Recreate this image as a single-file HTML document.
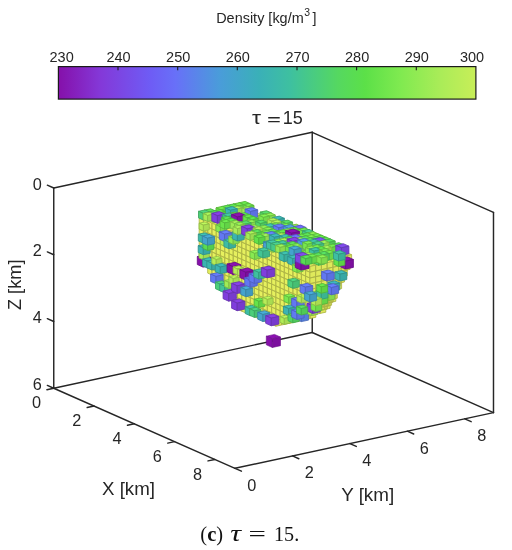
<!DOCTYPE html>
<html><head><meta charset="utf-8"><title>Density voxel plot</title>
<style>html,body{margin:0;padding:0;background:#fff}svg{display:block}</style>
</head><body>
<svg width="512" height="550" viewBox="0 0 512 550">
<rect width="512" height="550" fill="#fff"/>
<defs><linearGradient id="cm" x1="0" x2="1" y1="0" y2="0"><stop offset="0.000" stop-color="#8510aa"/><stop offset="0.100" stop-color="#8438d8"/><stop offset="0.220" stop-color="#6e5cf5"/><stop offset="0.280" stop-color="#6870f8"/><stop offset="0.385" stop-color="#4a9cda"/><stop offset="0.480" stop-color="#3ab0b8"/><stop offset="0.555" stop-color="#3ec0a0"/><stop offset="0.670" stop-color="#55d860"/><stop offset="0.735" stop-color="#5ce048"/><stop offset="0.820" stop-color="#80ea50"/><stop offset="0.915" stop-color="#aaec58"/><stop offset="1.000" stop-color="#c8ee58"/></linearGradient></defs>
<rect x="58.4" y="66.6" width="417.5" height="32.5" fill="url(#cm)" stroke="#1a1a1a" stroke-width="1.2"/>
<g stroke="#1a1a1a" stroke-width="1.1">
<line x1="118.0" y1="66.6" x2="118.0" y2="70.2"/>
<line x1="177.7" y1="66.6" x2="177.7" y2="70.2"/>
<line x1="237.3" y1="66.6" x2="237.3" y2="70.2"/>
<line x1="297.0" y1="66.6" x2="297.0" y2="70.2"/>
<line x1="356.6" y1="66.6" x2="356.6" y2="70.2"/>
<line x1="416.3" y1="66.6" x2="416.3" y2="70.2"/>
</g>
<g stroke="#262626" stroke-width="1.45" stroke-linecap="round" fill="none">
<line x1="53.75" y1="188.00" x2="312.23" y2="132.29"/>
<line x1="312.23" y1="132.29" x2="493.49" y2="212.39"/>
<line x1="312.23" y1="132.29" x2="312.23" y2="332.51"/>
<line x1="53.75" y1="388.22" x2="312.23" y2="332.51"/>
<line x1="312.23" y1="332.51" x2="493.49" y2="412.61"/>
</g>
<g stroke-width="0.6" stroke-linejoin="round"><g stroke="#6a0d88"><path fill="#8c11b2" d="M266.3,336.2L272.4,338.8L280.5,337.1L274.5,334.4Z"/><path fill="#8510aa" d="M266.3,336.2L272.4,338.8L272.4,347.5L266.3,344.8Z"/><path fill="#7c0f9e" d="M272.4,338.8L280.5,337.1L280.5,345.7L272.4,347.5Z"/></g></g>
<g stroke-width="0.85" stroke-linejoin="round">
<path fill="#edf761" stroke="#b8c04b" d="M199.2,211.7L203.4,213.6L209.2,212.4L204.9,210.5ZM204.9,210.5L209.2,212.4L214.9,211.2L210.6,209.3ZM210.6,215.0L214.9,216.9L220.6,215.7L216.4,213.8ZM216.4,208.0L220.6,209.9L226.4,208.7L222.1,206.8ZM222.1,206.8L226.4,208.7L232.1,207.4L227.9,205.6ZM227.9,205.6L232.1,207.4L237.9,206.2L233.6,204.3ZM233.6,204.3L237.9,206.2L243.6,205.0L239.4,203.1ZM239.4,203.1L243.6,205.0L249.4,203.7L245.1,201.8ZM203.4,213.6L207.7,215.5L213.4,214.3L209.2,212.4ZM209.2,212.4L213.4,214.3L219.2,213.0L214.9,211.2ZM214.9,211.2L219.2,213.0L224.9,211.8L220.6,209.9ZM220.6,215.7L224.9,217.6L230.6,216.3L226.4,214.4ZM226.4,208.7L230.6,210.6L236.4,209.3L232.1,207.4ZM232.1,207.4L236.4,209.3L242.1,208.1L237.9,206.2ZM237.9,212.0L242.1,213.8L247.9,212.6L243.6,210.7ZM243.6,205.0L247.9,206.8L253.6,205.6L249.4,203.7ZM207.7,221.3L211.9,223.1L217.7,221.9L213.4,220.0ZM213.4,214.3L217.7,216.2L223.4,214.9L219.2,213.0ZM219.2,218.8L223.4,220.7L229.2,219.4L224.9,217.6ZM224.9,217.6L229.2,219.4L234.9,218.2L230.6,216.3ZM230.6,216.3L234.9,218.2L240.7,217.0L236.4,215.1ZM236.4,215.1L240.7,217.0L246.4,215.7L242.1,213.8ZM242.1,208.1L246.4,210.0L252.1,208.7L247.9,206.8ZM247.9,212.6L252.1,214.5L257.9,213.2L253.6,211.4ZM211.9,223.1L216.2,225.0L221.9,223.8L217.7,221.9ZM217.7,221.9L221.9,223.8L227.7,222.6L223.4,220.7ZM223.4,214.9L227.7,216.8L233.4,215.6L229.2,213.7ZM229.2,213.7L233.4,215.6L239.2,214.3L234.9,212.4ZM234.9,218.2L239.2,220.1L244.9,218.8L240.7,217.0ZM240.7,217.0L244.9,218.8L250.7,217.6L246.4,215.7ZM246.4,210.0L250.7,211.8L256.4,210.6L252.1,208.7ZM252.1,214.5L256.4,216.4L262.1,215.1L257.9,213.2ZM216.2,225.0L220.4,226.9L226.2,225.7L221.9,223.8ZM221.9,218.0L226.2,219.9L231.9,218.7L227.7,216.8ZM227.7,222.6L231.9,224.4L237.7,223.2L233.4,221.3ZM233.4,215.6L237.7,217.4L243.4,216.2L239.2,214.3ZM239.2,214.3L243.4,216.2L249.2,215.0L244.9,213.1ZM244.9,218.8L249.2,220.7L254.9,219.5L250.7,217.6ZM250.7,217.6L254.9,219.5L260.7,218.2L256.4,216.4ZM256.4,216.4L260.7,218.2L266.4,217.0L262.1,215.1ZM220.4,221.2L224.7,223.0L230.5,221.8L226.2,219.9ZM226.2,219.9L230.5,221.8L236.2,220.6L231.9,218.7ZM231.9,224.4L236.2,226.3L241.9,225.1L237.7,223.2ZM237.7,223.2L241.9,225.1L247.7,223.8L243.4,222.0ZM243.4,216.2L247.7,218.1L253.4,216.8L249.2,215.0ZM249.2,220.7L253.4,222.6L259.2,221.4L254.9,219.5ZM254.9,219.5L259.2,221.4L264.9,220.1L260.7,218.2ZM260.7,212.5L264.9,214.4L270.7,213.1L266.4,211.3ZM224.7,228.8L229.0,230.7L234.7,229.4L230.5,227.6ZM230.5,221.8L234.7,223.7L240.5,222.4L236.2,220.6ZM236.2,226.3L240.5,228.2L246.2,227.0L241.9,225.1ZM241.9,225.1L246.2,227.0L251.9,225.7L247.7,223.8ZM247.7,218.1L251.9,220.0L257.7,218.7L253.4,216.8ZM253.4,222.6L257.7,224.5L263.4,223.3L259.2,221.4ZM259.2,215.6L263.4,217.5L269.2,216.3L264.9,214.4ZM264.9,214.4L269.2,216.3L274.9,215.0L270.7,213.1ZM229.0,230.7L233.2,232.6L239.0,231.3L234.7,229.4ZM234.7,223.7L239.0,225.6L244.7,224.3L240.5,222.4ZM240.5,222.4L244.7,224.3L250.5,223.1L246.2,221.2ZM246.2,221.2L250.5,223.1L256.2,221.9L251.9,220.0ZM251.9,225.7L256.2,227.6L261.9,226.4L257.7,224.5ZM257.7,224.5L261.9,226.4L267.7,225.1L263.4,223.3ZM263.4,223.3L267.7,225.1L273.4,223.9L269.2,222.0ZM269.2,222.0L273.4,223.9L279.2,222.7L274.9,220.8ZM233.2,226.8L237.5,228.7L243.2,227.4L239.0,225.6ZM239.0,231.3L243.2,233.2L249.0,232.0L244.7,230.1ZM244.7,230.1L249.0,232.0L254.7,230.7L250.5,228.8ZM250.5,228.8L254.7,230.7L260.5,229.5L256.2,227.6ZM256.2,221.9L260.5,223.7L266.2,222.5L261.9,220.6ZM261.9,226.4L266.2,228.3L272.0,227.0L267.7,225.1ZM267.7,219.4L272.0,221.3L277.7,220.0L273.4,218.1ZM273.4,218.1L277.7,220.0L283.4,218.8L279.2,216.9ZM237.5,234.4L241.7,236.3L247.5,235.1L243.2,233.2ZM243.2,227.4L247.5,229.3L253.2,228.1L249.0,226.2ZM249.0,226.2L253.2,228.1L259.0,226.9L254.7,225.0ZM254.7,230.7L259.0,232.6L264.7,231.4L260.5,229.5ZM260.5,229.5L264.7,231.4L270.5,230.1L266.2,228.3ZM266.2,228.3L270.5,230.1L276.2,228.9L272.0,227.0ZM272.0,221.3L276.2,223.1L282.0,221.9L277.7,220.0ZM277.7,225.8L282.0,227.7L287.7,226.4L283.4,224.5ZM241.7,236.3L246.0,238.2L251.8,237.0L247.5,235.1ZM247.5,235.1L251.8,237.0L257.5,235.7L253.2,233.8ZM253.2,228.1L257.5,230.0L263.2,228.7L259.0,226.9ZM259.0,226.9L263.2,228.7L269.0,227.5L264.7,225.6ZM264.7,225.6L269.0,227.5L274.7,226.3L270.5,224.4ZM270.5,224.4L274.7,226.3L280.5,225.0L276.2,223.1ZM276.2,228.9L280.5,230.8L286.2,229.5L282.0,227.7ZM282.0,221.9L286.2,223.8L292.0,222.5L287.7,220.7ZM246.0,232.5L250.3,234.3L256.0,233.1L251.8,231.2ZM251.8,231.2L256.0,233.1L261.8,231.9L257.5,230.0ZM257.5,235.7L261.8,237.6L267.5,236.4L263.2,234.5ZM263.2,228.7L267.5,230.6L273.2,229.4L269.0,227.5ZM269.0,233.3L273.2,235.1L279.0,233.9L274.7,232.0ZM274.7,226.3L279.0,228.1L284.7,226.9L280.5,225.0ZM280.5,225.0L284.7,226.9L290.5,225.7L286.2,223.8ZM286.2,229.5L290.5,231.4L296.2,230.2L292.0,228.3ZM250.3,240.1L254.5,242.0L260.3,240.7L256.0,238.9ZM256.0,238.9L260.3,240.7L266.0,239.5L261.8,237.6ZM261.8,231.9L266.0,233.7L271.8,232.5L267.5,230.6ZM267.5,230.6L271.8,232.5L277.5,231.3L273.2,229.4ZM273.2,235.1L277.5,237.0L283.2,235.8L279.0,233.9ZM279.0,233.9L283.2,235.8L289.0,234.5L284.7,232.7ZM284.7,226.9L289.0,228.8L294.7,227.6L290.5,225.7ZM290.5,225.7L294.7,227.6L300.5,226.3L296.2,224.4ZM254.5,236.2L258.8,238.1L264.5,236.9L260.3,235.0ZM260.3,235.0L264.5,236.9L270.3,235.6L266.0,233.7ZM266.0,233.7L270.3,235.6L276.0,234.4L271.8,232.5ZM271.8,238.3L276.0,240.1L281.8,238.9L277.5,237.0ZM277.5,231.3L281.8,233.1L287.5,231.9L283.2,230.0ZM283.2,230.0L287.5,231.9L293.3,230.7L289.0,228.8ZM289.0,228.8L293.3,230.7L299.0,229.4L294.7,227.6ZM294.7,227.6L299.0,229.4L304.7,228.2L300.5,226.3ZM258.8,243.9L263.0,245.7L268.8,244.5L264.5,242.6ZM264.5,242.6L268.8,244.5L274.5,243.3L270.3,241.4ZM270.3,235.6L274.5,237.5L280.3,236.3L276.0,234.4ZM276.0,234.4L280.3,236.3L286.0,235.0L281.8,233.1ZM281.8,238.9L286.0,240.8L291.8,239.5L287.5,237.7ZM287.5,231.9L291.8,233.8L297.5,232.6L293.3,230.7ZM293.3,236.4L297.5,238.3L303.3,237.1L299.0,235.2ZM299.0,229.4L303.3,231.3L309.0,230.1L304.7,228.2ZM263.0,245.7L267.3,247.6L273.0,246.4L268.8,244.5ZM268.8,244.5L273.0,246.4L278.8,245.1L274.5,243.3ZM274.5,243.3L278.8,245.1L284.5,243.9L280.3,242.0ZM280.3,236.3L284.5,238.1L290.3,236.9L286.0,235.0ZM286.0,240.8L290.3,242.7L296.0,241.4L291.8,239.5ZM291.8,239.5L296.0,241.4L301.8,240.2L297.5,238.3ZM297.5,238.3L301.8,240.2L307.5,239.0L303.3,237.1ZM303.3,231.3L307.5,233.2L313.3,232.0L309.0,230.1ZM267.3,241.9L271.6,243.7L277.3,242.5L273.0,240.6ZM273.0,240.6L277.3,242.5L283.1,241.3L278.8,239.4ZM278.8,239.4L283.1,241.3L288.8,240.0L284.5,238.1ZM284.5,238.1L288.8,240.0L294.5,238.8L290.3,236.9ZM290.3,236.9L294.5,238.8L300.3,237.6L296.0,235.7ZM296.0,235.7L300.3,237.6L306.0,236.3L301.8,234.4ZM301.8,234.4L306.0,236.3L311.8,235.1L307.5,233.2ZM307.5,233.2L311.8,235.1L317.5,233.8L313.3,232.0ZM271.6,243.7L275.8,245.6L281.6,244.4L277.3,242.5ZM277.3,242.5L281.6,244.4L287.3,243.2L283.1,241.3ZM283.1,247.0L287.3,248.9L293.1,247.7L288.8,245.8ZM288.8,240.0L293.1,241.9L298.8,240.7L294.5,238.8ZM294.5,238.8L298.8,240.7L304.5,239.4L300.3,237.6ZM300.3,237.6L304.5,239.4L310.3,238.2L306.0,236.3ZM306.0,236.3L310.3,238.2L316.0,237.0L311.8,235.1ZM311.8,235.1L316.0,237.0L321.8,235.7L317.5,233.8ZM275.8,245.6L280.1,247.5L285.8,246.3L281.6,244.4ZM281.6,250.1L285.8,252.0L291.6,250.8L287.3,248.9ZM287.3,243.2L291.6,245.0L297.3,243.8L293.1,241.9ZM293.1,247.7L297.3,249.6L303.1,248.3L298.8,246.4ZM298.8,240.7L303.1,242.6L308.8,241.3L304.5,239.4ZM304.5,239.4L308.8,241.3L314.5,240.1L310.3,238.2ZM310.3,238.2L314.5,240.1L320.3,238.8L316.0,237.0ZM316.0,237.0L320.3,238.8L326.0,237.6L321.8,235.7ZM280.1,253.3L284.3,255.1L290.1,253.9L285.8,252.0ZM285.8,246.3L290.1,248.2L295.8,246.9L291.6,245.0ZM291.6,245.0L295.8,246.9L301.6,245.7L297.3,243.8ZM297.3,249.6L301.6,251.4L307.3,250.2L303.1,248.3ZM303.1,242.6L307.3,244.4L313.1,243.2L308.8,241.3ZM308.8,241.3L313.1,243.2L318.8,242.0L314.5,240.1ZM314.5,240.1L318.8,242.0L324.6,240.7L320.3,238.8ZM320.3,238.8L324.6,240.7L330.3,239.5L326.0,237.6ZM284.3,255.1L288.6,257.0L294.3,255.8L290.1,253.9ZM290.1,248.2L294.3,250.0L300.1,248.8L295.8,246.9ZM295.8,252.7L300.1,254.6L305.8,253.3L301.6,251.4ZM301.6,251.4L305.8,253.3L311.6,252.1L307.3,250.2ZM307.3,250.2L311.6,252.1L317.3,250.8L313.1,249.0ZM313.1,243.2L317.3,245.1L323.1,243.8L318.8,242.0ZM318.8,242.0L323.1,243.8L328.8,242.6L324.6,240.7ZM324.6,240.7L328.8,242.6L334.6,241.4L330.3,239.5ZM288.6,257.0L292.9,258.9L298.6,257.7L294.3,255.8ZM294.3,255.8L298.6,257.7L304.4,256.4L300.1,254.6ZM300.1,254.6L304.4,256.4L310.1,255.2L305.8,253.3ZM305.8,247.6L310.1,249.4L315.8,248.2L311.6,246.3ZM311.6,246.3L315.8,248.2L321.6,247.0L317.3,245.1ZM317.3,250.8L321.6,252.7L327.3,251.5L323.1,249.6ZM323.1,249.6L327.3,251.5L333.1,250.2L328.8,248.4ZM328.8,248.4L333.1,250.2L338.8,249.0L334.6,247.1ZM292.9,258.9L297.1,260.8L302.9,259.6L298.6,257.7ZM298.6,257.7L302.9,259.6L308.6,258.3L304.4,256.4ZM304.4,256.4L308.6,258.3L314.4,257.1L310.1,255.2ZM310.1,249.4L314.4,251.3L320.1,250.1L315.8,248.2ZM315.8,248.2L320.1,250.1L325.8,248.8L321.6,247.0ZM321.6,247.0L325.8,248.8L331.6,247.6L327.3,245.7ZM327.3,245.7L331.6,247.6L337.3,246.4L333.1,244.5ZM333.1,244.5L337.3,246.4L343.1,245.1L338.8,243.3ZM297.1,255.0L301.4,256.9L307.1,255.7L302.9,253.8ZM302.9,253.8L307.1,255.7L312.9,254.4L308.6,252.6ZM308.6,258.3L312.9,260.2L318.6,259.0L314.4,257.1ZM314.4,257.1L318.6,259.0L324.4,257.7L320.1,255.8ZM320.1,250.1L324.4,252.0L330.1,250.7L325.8,248.8ZM325.8,254.6L330.1,256.5L335.8,255.3L331.6,253.4ZM331.6,253.4L335.8,255.3L341.6,254.0L337.3,252.1ZM337.3,246.4L341.6,248.3L347.3,247.0L343.1,245.1ZM301.4,256.9L305.6,258.8L311.4,257.6L307.1,255.7ZM307.1,255.7L311.4,257.6L317.1,256.3L312.9,254.4ZM312.9,254.4L317.1,256.3L322.9,255.1L318.6,253.2ZM318.6,253.2L322.9,255.1L328.6,253.9L324.4,252.0ZM324.4,252.0L328.6,253.9L334.4,252.6L330.1,250.7ZM330.1,256.5L334.4,258.4L340.1,257.1L335.8,255.3ZM335.8,255.3L340.1,257.1L345.9,255.9L341.6,254.0ZM341.6,254.0L345.9,255.9L351.6,254.7L347.3,252.8ZM305.6,264.6L309.9,266.4L315.6,265.2L311.4,263.3ZM311.4,263.3L315.6,265.2L321.4,264.0L317.1,262.1ZM317.1,256.3L321.4,258.2L327.1,257.0L322.9,255.1ZM322.9,260.8L327.1,262.7L332.9,261.5L328.6,259.6ZM328.6,259.6L332.9,261.5L338.6,260.3L334.4,258.4ZM334.4,252.6L338.6,254.5L344.4,253.3L340.1,251.4ZM340.1,257.1L344.4,259.0L350.1,257.8L345.9,255.9Z"/>
<path fill="#e6f05e" stroke="#afb647" d="M199.2,211.7L203.4,213.6L203.4,219.4L199.2,217.5ZM199.2,217.5L203.4,219.4L203.4,225.1L199.2,223.3ZM199.2,223.3L203.4,225.1L203.4,230.9L199.2,229.0ZM199.2,229.0L203.4,230.9L203.4,236.7L199.2,234.8ZM199.2,234.8L203.4,236.7L203.4,242.4L199.2,240.5ZM199.2,240.5L203.4,242.4L203.4,248.2L199.2,246.3ZM199.2,246.3L203.4,248.2L203.4,253.9L199.2,252.0ZM199.2,252.0L203.4,253.9L203.4,259.7L199.2,257.8ZM199.2,257.8L203.4,259.7L203.4,265.4L199.2,263.6ZM216.4,208.0L220.6,209.9L220.6,215.7L216.4,213.8ZM203.4,213.6L207.7,215.5L207.7,221.3L203.4,219.4ZM203.4,219.4L207.7,221.3L207.7,227.0L203.4,225.1ZM203.4,225.1L207.7,227.0L207.7,232.8L203.4,230.9ZM203.4,230.9L207.7,232.8L207.7,238.5L203.4,236.7ZM203.4,236.7L207.7,238.5L207.7,244.3L203.4,242.4ZM203.4,242.4L207.7,244.3L207.7,250.0L203.4,248.2ZM203.4,248.2L207.7,250.0L207.7,255.8L203.4,253.9ZM203.4,253.9L207.7,255.8L207.7,261.6L203.4,259.7ZM203.4,259.7L207.7,261.6L207.7,267.3L203.4,265.4ZM226.4,208.7L230.6,210.6L230.6,216.3L226.4,214.4ZM243.6,205.0L247.9,206.8L247.9,212.6L243.6,210.7ZM207.7,221.3L211.9,223.1L211.9,228.9L207.7,227.0ZM207.7,227.0L211.9,228.9L211.9,234.7L207.7,232.8ZM207.7,232.8L211.9,234.7L211.9,240.4L207.7,238.5ZM207.7,238.5L211.9,240.4L211.9,246.2L207.7,244.3ZM207.7,244.3L211.9,246.2L211.9,251.9L207.7,250.0ZM207.7,250.0L211.9,251.9L211.9,257.7L207.7,255.8ZM207.7,255.8L211.9,257.7L211.9,263.4L207.7,261.6ZM207.7,261.6L211.9,263.4L211.9,269.2L207.7,267.3ZM207.7,267.3L211.9,269.2L211.9,275.0L207.7,273.1ZM213.4,214.3L217.7,216.2L217.7,221.9L213.4,220.0ZM242.1,208.1L246.4,210.0L246.4,215.7L242.1,213.8ZM211.9,223.1L216.2,225.0L216.2,230.8L211.9,228.9ZM211.9,228.9L216.2,230.8L216.2,236.5L211.9,234.7ZM211.9,234.7L216.2,236.5L216.2,242.3L211.9,240.4ZM211.9,240.4L216.2,242.3L216.2,248.1L211.9,246.2ZM211.9,246.2L216.2,248.1L216.2,253.8L211.9,251.9ZM211.9,251.9L216.2,253.8L216.2,259.6L211.9,257.7ZM211.9,257.7L216.2,259.6L216.2,265.3L211.9,263.4ZM211.9,263.4L216.2,265.3L216.2,271.1L211.9,269.2ZM211.9,269.2L216.2,271.1L216.2,276.8L211.9,275.0ZM211.9,275.0L216.2,276.8L216.2,282.6L211.9,280.7ZM223.4,214.9L227.7,216.8L227.7,222.6L223.4,220.7ZM246.4,210.0L250.7,211.8L250.7,217.6L246.4,215.7ZM216.2,225.0L220.4,226.9L220.4,232.7L216.2,230.8ZM216.2,230.8L220.4,232.7L220.4,238.4L216.2,236.5ZM216.2,236.5L220.4,238.4L220.4,244.2L216.2,242.3ZM216.2,242.3L220.4,244.2L220.4,249.9L216.2,248.1ZM216.2,248.1L220.4,249.9L220.4,255.7L216.2,253.8ZM216.2,253.8L220.4,255.7L220.4,261.5L216.2,259.6ZM216.2,259.6L220.4,261.5L220.4,267.2L216.2,265.3ZM216.2,265.3L220.4,267.2L220.4,273.0L216.2,271.1ZM216.2,271.1L220.4,273.0L220.4,278.7L216.2,276.8ZM216.2,276.8L220.4,278.7L220.4,284.5L216.2,282.6ZM216.2,282.6L220.4,284.5L220.4,290.2L216.2,288.4ZM221.9,218.0L226.2,219.9L226.2,225.7L221.9,223.8ZM233.4,215.6L237.7,217.4L237.7,223.2L233.4,221.3ZM220.4,221.2L224.7,223.0L224.7,228.8L220.4,226.9ZM220.4,226.9L224.7,228.8L224.7,234.6L220.4,232.7ZM220.4,232.7L224.7,234.6L224.7,240.3L220.4,238.4ZM220.4,238.4L224.7,240.3L224.7,246.1L220.4,244.2ZM220.4,244.2L224.7,246.1L224.7,251.8L220.4,249.9ZM220.4,249.9L224.7,251.8L224.7,257.6L220.4,255.7ZM220.4,255.7L224.7,257.6L224.7,263.3L220.4,261.5ZM220.4,261.5L224.7,263.3L224.7,269.1L220.4,267.2ZM220.4,267.2L224.7,269.1L224.7,274.8L220.4,273.0ZM220.4,273.0L224.7,274.8L224.7,280.6L220.4,278.7ZM220.4,278.7L224.7,280.6L224.7,286.4L220.4,284.5ZM220.4,284.5L224.7,286.4L224.7,292.1L220.4,290.2ZM243.4,216.2L247.7,218.1L247.7,223.8L243.4,222.0ZM260.7,212.5L264.9,214.4L264.9,220.1L260.7,218.2ZM224.7,228.8L229.0,230.7L229.0,236.4L224.7,234.6ZM224.7,234.6L229.0,236.4L229.0,242.2L224.7,240.3ZM224.7,240.3L229.0,242.2L229.0,247.9L224.7,246.1ZM224.7,246.1L229.0,247.9L229.0,253.7L224.7,251.8ZM224.7,251.8L229.0,253.7L229.0,259.5L224.7,257.6ZM224.7,257.6L229.0,259.5L229.0,265.2L224.7,263.3ZM224.7,263.3L229.0,265.2L229.0,271.0L224.7,269.1ZM224.7,269.1L229.0,271.0L229.0,276.7L224.7,274.8ZM224.7,274.8L229.0,276.7L229.0,282.5L224.7,280.6ZM224.7,280.6L229.0,282.5L229.0,288.2L224.7,286.4ZM224.7,286.4L229.0,288.2L229.0,294.0L224.7,292.1ZM224.7,292.1L229.0,294.0L229.0,299.8L224.7,297.9ZM230.5,221.8L234.7,223.7L234.7,229.4L230.5,227.6ZM247.7,218.1L251.9,220.0L251.9,225.7L247.7,223.8ZM259.2,215.6L263.4,217.5L263.4,223.3L259.2,221.4ZM229.0,230.7L233.2,232.6L233.2,238.3L229.0,236.4ZM229.0,236.4L233.2,238.3L233.2,244.1L229.0,242.2ZM229.0,242.2L233.2,244.1L233.2,249.8L229.0,247.9ZM229.0,247.9L233.2,249.8L233.2,255.6L229.0,253.7ZM229.0,253.7L233.2,255.6L233.2,261.3L229.0,259.5ZM229.0,259.5L233.2,261.3L233.2,267.1L229.0,265.2ZM229.0,265.2L233.2,267.1L233.2,272.9L229.0,271.0ZM229.0,271.0L233.2,272.9L233.2,278.6L229.0,276.7ZM229.0,276.7L233.2,278.6L233.2,284.4L229.0,282.5ZM229.0,282.5L233.2,284.4L233.2,290.1L229.0,288.2ZM229.0,288.2L233.2,290.1L233.2,295.9L229.0,294.0ZM229.0,294.0L233.2,295.9L233.2,301.6L229.0,299.8ZM234.7,223.7L239.0,225.6L239.0,231.3L234.7,229.4ZM233.2,226.8L237.5,228.7L237.5,234.4L233.2,232.6ZM233.2,232.6L237.5,234.4L237.5,240.2L233.2,238.3ZM233.2,238.3L237.5,240.2L237.5,246.0L233.2,244.1ZM233.2,244.1L237.5,246.0L237.5,251.7L233.2,249.8ZM233.2,249.8L237.5,251.7L237.5,257.5L233.2,255.6ZM233.2,255.6L237.5,257.5L237.5,263.2L233.2,261.3ZM233.2,261.3L237.5,263.2L237.5,269.0L233.2,267.1ZM233.2,267.1L237.5,269.0L237.5,274.7L233.2,272.9ZM233.2,272.9L237.5,274.7L237.5,280.5L233.2,278.6ZM233.2,278.6L237.5,280.5L237.5,286.3L233.2,284.4ZM233.2,284.4L237.5,286.3L237.5,292.0L233.2,290.1ZM233.2,290.1L237.5,292.0L237.5,297.8L233.2,295.9ZM233.2,295.9L237.5,297.8L237.5,303.5L233.2,301.6ZM233.2,301.6L237.5,303.5L237.5,309.3L233.2,307.4ZM256.2,221.9L260.5,223.7L260.5,229.5L256.2,227.6ZM267.7,219.4L272.0,221.3L272.0,227.0L267.7,225.1ZM237.5,234.4L241.7,236.3L241.7,242.1L237.5,240.2ZM237.5,240.2L241.7,242.1L241.7,247.8L237.5,246.0ZM237.5,246.0L241.7,247.8L241.7,253.6L237.5,251.7ZM237.5,251.7L241.7,253.6L241.7,259.4L237.5,257.5ZM237.5,257.5L241.7,259.4L241.7,265.1L237.5,263.2ZM237.5,263.2L241.7,265.1L241.7,270.9L237.5,269.0ZM237.5,269.0L241.7,270.9L241.7,276.6L237.5,274.7ZM237.5,274.7L241.7,276.6L241.7,282.4L237.5,280.5ZM237.5,280.5L241.7,282.4L241.7,288.1L237.5,286.3ZM237.5,286.3L241.7,288.1L241.7,293.9L237.5,292.0ZM237.5,292.0L241.7,293.9L241.7,299.6L237.5,297.8ZM237.5,297.8L241.7,299.6L241.7,305.4L237.5,303.5ZM237.5,303.5L241.7,305.4L241.7,311.2L237.5,309.3ZM243.2,227.4L247.5,229.3L247.5,235.1L243.2,233.2ZM272.0,221.3L276.2,223.1L276.2,228.9L272.0,227.0ZM241.7,236.3L246.0,238.2L246.0,244.0L241.7,242.1ZM241.7,242.1L246.0,244.0L246.0,249.7L241.7,247.8ZM241.7,247.8L246.0,249.7L246.0,255.5L241.7,253.6ZM241.7,253.6L246.0,255.5L246.0,261.2L241.7,259.4ZM241.7,259.4L246.0,261.2L246.0,267.0L241.7,265.1ZM241.7,265.1L246.0,267.0L246.0,272.7L241.7,270.9ZM241.7,270.9L246.0,272.7L246.0,278.5L241.7,276.6ZM241.7,276.6L246.0,278.5L246.0,284.3L241.7,282.4ZM241.7,282.4L246.0,284.3L246.0,290.0L241.7,288.1ZM241.7,288.1L246.0,290.0L246.0,295.8L241.7,293.9ZM241.7,293.9L246.0,295.8L246.0,301.5L241.7,299.6ZM241.7,299.6L246.0,301.5L246.0,307.3L241.7,305.4ZM241.7,305.4L246.0,307.3L246.0,313.0L241.7,311.2ZM253.2,228.1L257.5,230.0L257.5,235.7L253.2,233.8ZM282.0,221.9L286.2,223.8L286.2,229.5L282.0,227.7ZM246.0,232.5L250.3,234.3L250.3,240.1L246.0,238.2ZM246.0,238.2L250.3,240.1L250.3,245.8L246.0,244.0ZM246.0,244.0L250.3,245.8L250.3,251.6L246.0,249.7ZM246.0,249.7L250.3,251.6L250.3,257.4L246.0,255.5ZM246.0,255.5L250.3,257.4L250.3,263.1L246.0,261.2ZM246.0,261.2L250.3,263.1L250.3,268.9L246.0,267.0ZM246.0,267.0L250.3,268.9L250.3,274.6L246.0,272.7ZM246.0,272.7L250.3,274.6L250.3,280.4L246.0,278.5ZM246.0,278.5L250.3,280.4L250.3,286.1L246.0,284.3ZM246.0,284.3L250.3,286.1L250.3,291.9L246.0,290.0ZM246.0,290.0L250.3,291.9L250.3,297.7L246.0,295.8ZM246.0,295.8L250.3,297.7L250.3,303.4L246.0,301.5ZM246.0,301.5L250.3,303.4L250.3,309.2L246.0,307.3ZM246.0,307.3L250.3,309.2L250.3,314.9L246.0,313.0ZM263.2,228.7L267.5,230.6L267.5,236.4L263.2,234.5ZM274.7,226.3L279.0,228.1L279.0,233.9L274.7,232.0ZM250.3,240.1L254.5,242.0L254.5,247.7L250.3,245.8ZM250.3,245.8L254.5,247.7L254.5,253.5L250.3,251.6ZM250.3,251.6L254.5,253.5L254.5,259.2L250.3,257.4ZM250.3,257.4L254.5,259.2L254.5,265.0L250.3,263.1ZM250.3,263.1L254.5,265.0L254.5,270.8L250.3,268.9ZM250.3,268.9L254.5,270.8L254.5,276.5L250.3,274.6ZM250.3,274.6L254.5,276.5L254.5,282.3L250.3,280.4ZM250.3,280.4L254.5,282.3L254.5,288.0L250.3,286.1ZM250.3,286.1L254.5,288.0L254.5,293.8L250.3,291.9ZM250.3,291.9L254.5,293.8L254.5,299.5L250.3,297.7ZM250.3,297.7L254.5,299.5L254.5,305.3L250.3,303.4ZM250.3,303.4L254.5,305.3L254.5,311.0L250.3,309.2ZM250.3,309.2L254.5,311.0L254.5,316.8L250.3,314.9ZM261.8,231.9L266.0,233.7L266.0,239.5L261.8,237.6ZM284.7,226.9L289.0,228.8L289.0,234.5L284.7,232.7ZM254.5,236.2L258.8,238.1L258.8,243.9L254.5,242.0ZM254.5,242.0L258.8,243.9L258.8,249.6L254.5,247.7ZM254.5,247.7L258.8,249.6L258.8,255.4L254.5,253.5ZM254.5,253.5L258.8,255.4L258.8,261.1L254.5,259.2ZM254.5,259.2L258.8,261.1L258.8,266.9L254.5,265.0ZM254.5,265.0L258.8,266.9L258.8,272.6L254.5,270.8ZM254.5,270.8L258.8,272.6L258.8,278.4L254.5,276.5ZM254.5,276.5L258.8,278.4L258.8,284.1L254.5,282.3ZM254.5,282.3L258.8,284.1L258.8,289.9L254.5,288.0ZM254.5,288.0L258.8,289.9L258.8,295.7L254.5,293.8ZM254.5,293.8L258.8,295.7L258.8,301.4L254.5,299.5ZM254.5,299.5L258.8,301.4L258.8,307.2L254.5,305.3ZM254.5,305.3L258.8,307.2L258.8,312.9L254.5,311.0ZM254.5,311.0L258.8,312.9L258.8,318.7L254.5,316.8ZM277.5,231.3L281.8,233.1L281.8,238.9L277.5,237.0ZM258.8,243.9L263.0,245.7L263.0,251.5L258.8,249.6ZM258.8,249.6L263.0,251.5L263.0,257.3L258.8,255.4ZM258.8,255.4L263.0,257.3L263.0,263.0L258.8,261.1ZM258.8,261.1L263.0,263.0L263.0,268.8L258.8,266.9ZM258.8,266.9L263.0,268.8L263.0,274.5L258.8,272.6ZM258.8,272.6L263.0,274.5L263.0,280.3L258.8,278.4ZM258.8,278.4L263.0,280.3L263.0,286.0L258.8,284.1ZM258.8,284.1L263.0,286.0L263.0,291.8L258.8,289.9ZM258.8,289.9L263.0,291.8L263.0,297.5L258.8,295.7ZM258.8,295.7L263.0,297.5L263.0,303.3L258.8,301.4ZM258.8,301.4L263.0,303.3L263.0,309.1L258.8,307.2ZM258.8,307.2L263.0,309.1L263.0,314.8L258.8,312.9ZM258.8,312.9L263.0,314.8L263.0,320.6L258.8,318.7ZM270.3,235.6L274.5,237.5L274.5,243.3L270.3,241.4ZM287.5,231.9L291.8,233.8L291.8,239.5L287.5,237.7ZM299.0,229.4L303.3,231.3L303.3,237.1L299.0,235.2ZM263.0,245.7L267.3,247.6L267.3,253.4L263.0,251.5ZM263.0,251.5L267.3,253.4L267.3,259.1L263.0,257.3ZM263.0,257.3L267.3,259.1L267.3,264.9L263.0,263.0ZM263.0,263.0L267.3,264.9L267.3,270.6L263.0,268.8ZM263.0,268.8L267.3,270.6L267.3,276.4L263.0,274.5ZM263.0,274.5L267.3,276.4L267.3,282.2L263.0,280.3ZM263.0,280.3L267.3,282.2L267.3,287.9L263.0,286.0ZM263.0,286.0L267.3,287.9L267.3,293.7L263.0,291.8ZM263.0,291.8L267.3,293.7L267.3,299.4L263.0,297.5ZM263.0,297.5L267.3,299.4L267.3,305.2L263.0,303.3ZM263.0,303.3L267.3,305.2L267.3,310.9L263.0,309.1ZM263.0,309.1L267.3,310.9L267.3,316.7L263.0,314.8ZM263.0,314.8L267.3,316.7L267.3,322.5L263.0,320.6ZM280.3,236.3L284.5,238.1L284.5,243.9L280.3,242.0ZM303.3,231.3L307.5,233.2L307.5,239.0L303.3,237.1ZM267.3,241.9L271.6,243.7L271.6,249.5L267.3,247.6ZM267.3,247.6L271.6,249.5L271.6,255.3L267.3,253.4ZM267.3,253.4L271.6,255.3L271.6,261.0L267.3,259.1ZM267.3,259.1L271.6,261.0L271.6,266.8L267.3,264.9ZM267.3,264.9L271.6,266.8L271.6,272.5L267.3,270.6ZM267.3,270.6L271.6,272.5L271.6,278.3L267.3,276.4ZM267.3,276.4L271.6,278.3L271.6,284.0L267.3,282.2ZM267.3,282.2L271.6,284.0L271.6,289.8L267.3,287.9ZM267.3,287.9L271.6,289.8L271.6,295.6L267.3,293.7ZM267.3,293.7L271.6,295.6L271.6,301.3L267.3,299.4ZM267.3,299.4L271.6,301.3L271.6,307.1L267.3,305.2ZM267.3,305.2L271.6,307.1L271.6,312.8L267.3,310.9ZM267.3,310.9L271.6,312.8L271.6,318.6L267.3,316.7ZM267.3,316.7L271.6,318.6L271.6,324.3L267.3,322.5ZM271.6,243.7L275.8,245.6L275.8,251.4L271.6,249.5ZM271.6,249.5L275.8,251.4L275.8,257.1L271.6,255.3ZM271.6,255.3L275.8,257.1L275.8,262.9L271.6,261.0ZM271.6,261.0L275.8,262.9L275.8,268.7L271.6,266.8ZM271.6,266.8L275.8,268.7L275.8,274.4L271.6,272.5ZM271.6,272.5L275.8,274.4L275.8,280.2L271.6,278.3ZM271.6,278.3L275.8,280.2L275.8,285.9L271.6,284.0ZM271.6,284.0L275.8,285.9L275.8,291.7L271.6,289.8ZM271.6,289.8L275.8,291.7L275.8,297.4L271.6,295.6ZM271.6,295.6L275.8,297.4L275.8,303.2L271.6,301.3ZM271.6,301.3L275.8,303.2L275.8,308.9L271.6,307.1ZM271.6,307.1L275.8,308.9L275.8,314.7L271.6,312.8ZM271.6,312.8L275.8,314.7L275.8,320.5L271.6,318.6ZM271.6,318.6L275.8,320.5L275.8,326.2L271.6,324.3ZM288.8,240.0L293.1,241.9L293.1,247.7L288.8,245.8ZM275.8,245.6L280.1,247.5L280.1,253.3L275.8,251.4ZM275.8,251.4L280.1,253.3L280.1,259.0L275.8,257.1ZM275.8,257.1L280.1,259.0L280.1,264.8L275.8,262.9ZM275.8,262.9L280.1,264.8L280.1,270.5L275.8,268.7ZM275.8,268.7L280.1,270.5L280.1,276.3L275.8,274.4ZM275.8,274.4L280.1,276.3L280.1,282.0L275.8,280.2ZM275.8,280.2L280.1,282.0L280.1,287.8L275.8,285.9ZM275.8,285.9L280.1,287.8L280.1,293.6L275.8,291.7ZM275.8,291.7L280.1,293.6L280.1,299.3L275.8,297.4ZM275.8,297.4L280.1,299.3L280.1,305.1L275.8,303.2ZM275.8,303.2L280.1,305.1L280.1,310.8L275.8,308.9ZM275.8,308.9L280.1,310.8L280.1,316.6L275.8,314.7ZM275.8,314.7L280.1,316.6L280.1,322.3L275.8,320.5ZM287.3,243.2L291.6,245.0L291.6,250.8L287.3,248.9ZM298.8,240.7L303.1,242.6L303.1,248.3L298.8,246.4ZM280.1,253.3L284.3,255.1L284.3,260.9L280.1,259.0ZM280.1,259.0L284.3,260.9L284.3,266.7L280.1,264.8ZM280.1,264.8L284.3,266.7L284.3,272.4L280.1,270.5ZM280.1,270.5L284.3,272.4L284.3,278.2L280.1,276.3ZM280.1,276.3L284.3,278.2L284.3,283.9L280.1,282.0ZM280.1,282.0L284.3,283.9L284.3,289.7L280.1,287.8ZM280.1,287.8L284.3,289.7L284.3,295.4L280.1,293.6ZM280.1,293.6L284.3,295.4L284.3,301.2L280.1,299.3ZM280.1,299.3L284.3,301.2L284.3,307.0L280.1,305.1ZM280.1,305.1L284.3,307.0L284.3,312.7L280.1,310.8ZM280.1,310.8L284.3,312.7L284.3,318.5L280.1,316.6ZM280.1,316.6L284.3,318.5L284.3,324.2L280.1,322.3ZM285.8,246.3L290.1,248.2L290.1,253.9L285.8,252.0ZM303.1,242.6L307.3,244.4L307.3,250.2L303.1,248.3ZM284.3,255.1L288.6,257.0L288.6,262.8L284.3,260.9ZM284.3,260.9L288.6,262.8L288.6,268.5L284.3,266.7ZM284.3,266.7L288.6,268.5L288.6,274.3L284.3,272.4ZM284.3,272.4L288.6,274.3L288.6,280.1L284.3,278.2ZM284.3,278.2L288.6,280.1L288.6,285.8L284.3,283.9ZM284.3,283.9L288.6,285.8L288.6,291.6L284.3,289.7ZM284.3,289.7L288.6,291.6L288.6,297.3L284.3,295.4ZM284.3,295.4L288.6,297.3L288.6,303.1L284.3,301.2ZM284.3,301.2L288.6,303.1L288.6,308.8L284.3,307.0ZM284.3,307.0L288.6,308.8L288.6,314.6L284.3,312.7ZM284.3,312.7L288.6,314.6L288.6,320.4L284.3,318.5ZM290.1,248.2L294.3,250.0L294.3,255.8L290.1,253.9ZM313.1,243.2L317.3,245.1L317.3,250.8L313.1,249.0ZM288.6,257.0L292.9,258.9L292.9,264.7L288.6,262.8ZM288.6,262.8L292.9,264.7L292.9,270.4L288.6,268.5ZM288.6,268.5L292.9,270.4L292.9,276.2L288.6,274.3ZM288.6,274.3L292.9,276.2L292.9,281.9L288.6,280.1ZM288.6,280.1L292.9,281.9L292.9,287.7L288.6,285.8ZM288.6,285.8L292.9,287.7L292.9,293.5L288.6,291.6ZM288.6,291.6L292.9,293.5L292.9,299.2L288.6,297.3ZM288.6,297.3L292.9,299.2L292.9,305.0L288.6,303.1ZM288.6,303.1L292.9,305.0L292.9,310.7L288.6,308.8ZM288.6,308.8L292.9,310.7L292.9,316.5L288.6,314.6ZM288.6,314.6L292.9,316.5L292.9,322.2L288.6,320.4ZM305.8,247.6L310.1,249.4L310.1,255.2L305.8,253.3ZM292.9,258.9L297.1,260.8L297.1,266.6L292.9,264.7ZM292.9,264.7L297.1,266.6L297.1,272.3L292.9,270.4ZM292.9,270.4L297.1,272.3L297.1,278.1L292.9,276.2ZM292.9,276.2L297.1,278.1L297.1,283.8L292.9,281.9ZM292.9,281.9L297.1,283.8L297.1,289.6L292.9,287.7ZM292.9,287.7L297.1,289.6L297.1,295.3L292.9,293.5ZM292.9,293.5L297.1,295.3L297.1,301.1L292.9,299.2ZM292.9,299.2L297.1,301.1L297.1,306.8L292.9,305.0ZM292.9,305.0L297.1,306.8L297.1,312.6L292.9,310.7ZM292.9,310.7L297.1,312.6L297.1,318.4L292.9,316.5ZM310.1,249.4L314.4,251.3L314.4,257.1L310.1,255.2ZM297.1,255.0L301.4,256.9L301.4,262.7L297.1,260.8ZM297.1,260.8L301.4,262.7L301.4,268.4L297.1,266.6ZM297.1,266.6L301.4,268.4L301.4,274.2L297.1,272.3ZM297.1,272.3L301.4,274.2L301.4,279.9L297.1,278.1ZM297.1,278.1L301.4,279.9L301.4,285.7L297.1,283.8ZM297.1,283.8L301.4,285.7L301.4,291.5L297.1,289.6ZM297.1,289.6L301.4,291.5L301.4,297.2L297.1,295.3ZM297.1,295.3L301.4,297.2L301.4,303.0L297.1,301.1ZM297.1,301.1L301.4,303.0L301.4,308.7L297.1,306.8ZM297.1,306.8L301.4,308.7L301.4,314.5L297.1,312.6ZM320.1,250.1L324.4,252.0L324.4,257.7L320.1,255.8ZM337.3,246.4L341.6,248.3L341.6,254.0L337.3,252.1ZM301.4,256.9L305.6,258.8L305.6,264.6L301.4,262.7ZM301.4,262.7L305.6,264.6L305.6,270.3L301.4,268.4ZM301.4,268.4L305.6,270.3L305.6,276.1L301.4,274.2ZM301.4,274.2L305.6,276.1L305.6,281.8L301.4,279.9ZM301.4,279.9L305.6,281.8L305.6,287.6L301.4,285.7ZM301.4,285.7L305.6,287.6L305.6,293.3L301.4,291.5ZM301.4,291.5L305.6,293.3L305.6,299.1L301.4,297.2ZM301.4,297.2L305.6,299.1L305.6,304.9L301.4,303.0ZM301.4,303.0L305.6,304.9L305.6,310.6L301.4,308.7ZM305.6,264.6L309.9,266.4L309.9,272.2L305.6,270.3ZM305.6,270.3L309.9,272.2L309.9,278.0L305.6,276.1ZM305.6,276.1L309.9,278.0L309.9,283.7L305.6,281.8ZM305.6,281.8L309.9,283.7L309.9,289.5L305.6,287.6ZM305.6,287.6L309.9,289.5L309.9,295.2L305.6,293.3ZM305.6,293.3L309.9,295.2L309.9,301.0L305.6,299.1ZM305.6,299.1L309.9,301.0L309.9,306.7L305.6,304.9ZM305.6,304.9L309.9,306.7L309.9,312.5L305.6,310.6ZM317.1,256.3L321.4,258.2L321.4,264.0L317.1,262.1ZM334.4,252.6L338.6,254.5L338.6,260.3L334.4,258.4Z"/>
<path fill="#dfe95b" stroke="#acb446" d="M220.6,209.9L226.4,208.7L226.4,214.4L220.6,215.7ZM237.9,206.2L243.6,205.0L243.6,210.7L237.9,212.0ZM207.7,215.5L213.4,214.3L213.4,220.0L207.7,221.3ZM219.2,213.0L224.9,211.8L224.9,217.6L219.2,218.8ZM230.6,210.6L236.4,209.3L236.4,215.1L230.6,216.3ZM236.4,209.3L242.1,208.1L242.1,213.8L236.4,215.1ZM247.9,206.8L253.6,205.6L253.6,211.4L247.9,212.6ZM217.7,216.2L223.4,214.9L223.4,220.7L217.7,221.9ZM227.7,216.8L233.4,215.6L233.4,221.3L227.7,222.6ZM250.7,211.8L256.4,210.6L256.4,216.4L250.7,217.6ZM237.7,217.4L243.4,216.2L243.4,222.0L237.7,223.2ZM224.7,223.0L230.5,221.8L230.5,227.6L224.7,228.8ZM251.9,220.0L257.7,218.7L257.7,224.5L251.9,225.7ZM263.4,217.5L269.2,216.3L269.2,222.0L263.4,223.3ZM269.2,216.3L274.9,215.0L274.9,220.8L269.2,222.0ZM239.0,225.6L244.7,224.3L244.7,230.1L239.0,231.3ZM244.7,224.3L250.5,223.1L250.5,228.8L244.7,230.1ZM250.5,223.1L256.2,221.9L256.2,227.6L250.5,228.8ZM237.5,228.7L243.2,227.4L243.2,233.2L237.5,234.4ZM260.5,223.7L266.2,222.5L266.2,228.3L260.5,229.5ZM277.7,220.0L283.4,218.8L283.4,224.5L277.7,225.8ZM247.5,229.3L253.2,228.1L253.2,233.8L247.5,235.1ZM276.2,223.1L282.0,221.9L282.0,227.7L276.2,228.9ZM257.5,230.0L263.2,228.7L263.2,234.5L257.5,235.7ZM269.0,227.5L274.7,226.3L274.7,232.0L269.0,233.3ZM286.2,223.8L292.0,222.5L292.0,228.3L286.2,229.5ZM250.3,234.3L256.0,233.1L256.0,238.9L250.3,240.1ZM256.0,233.1L261.8,231.9L261.8,237.6L256.0,238.9ZM279.0,228.1L284.7,226.9L284.7,232.7L279.0,233.9ZM271.8,232.5L277.5,231.3L277.5,237.0L271.8,238.3ZM258.8,238.1L264.5,236.9L264.5,242.6L258.8,243.9ZM264.5,236.9L270.3,235.6L270.3,241.4L264.5,242.6ZM281.8,233.1L287.5,231.9L287.5,237.7L281.8,238.9ZM293.3,230.7L299.0,229.4L299.0,235.2L293.3,236.4ZM274.5,237.5L280.3,236.3L280.3,242.0L274.5,243.3ZM291.8,233.8L297.5,232.6L297.5,238.3L291.8,239.5ZM290.3,311.7L296.0,310.5L296.0,316.3L290.3,317.5ZM283.1,241.3L288.8,240.0L288.8,245.8L283.1,247.0ZM288.8,314.9L294.5,313.6L294.5,319.4L288.8,320.6ZM275.8,320.5L281.6,319.2L281.6,325.0L275.8,326.2ZM281.6,244.4L287.3,243.2L287.3,248.9L281.6,250.1ZM281.6,319.2L287.3,318.0L287.3,323.7L281.6,325.0ZM287.3,318.0L293.1,316.7L293.1,322.5L287.3,323.7ZM293.1,241.9L298.8,240.7L298.8,246.4L293.1,247.7ZM304.5,308.5L310.3,307.3L310.3,313.0L304.5,314.3ZM310.3,301.5L316.0,300.3L316.0,306.0L310.3,307.3ZM316.0,294.5L321.8,293.3L321.8,299.0L316.0,300.3ZM280.1,247.5L285.8,246.3L285.8,252.0L280.1,253.3ZM303.1,311.6L308.8,310.4L308.8,316.2L303.1,317.4ZM284.3,318.5L290.1,317.2L290.1,323.0L284.3,324.2ZM290.1,317.2L295.8,316.0L295.8,321.7L290.1,323.0ZM295.8,246.9L301.6,245.7L301.6,251.4L295.8,252.7ZM295.8,316.0L301.6,314.8L301.6,320.5L295.8,321.7ZM301.6,314.8L307.3,313.5L307.3,319.3L301.6,320.5ZM307.3,244.4L313.1,243.2L313.1,249.0L307.3,250.2ZM313.1,306.5L318.8,305.3L318.8,311.0L313.1,312.3ZM294.3,250.0L300.1,248.8L300.1,254.6L294.3,255.8ZM311.6,309.6L317.3,308.4L317.3,314.2L311.6,315.4ZM317.3,245.1L323.1,243.8L323.1,249.6L317.3,250.8ZM323.1,243.8L328.8,242.6L328.8,248.4L323.1,249.6ZM323.1,301.4L328.8,300.2L328.8,305.9L323.1,307.2ZM328.8,242.6L334.6,241.4L334.6,247.1L328.8,248.4ZM328.8,288.7L334.6,287.4L334.6,293.2L328.8,294.4ZM328.8,294.4L334.6,293.2L334.6,298.9L328.8,300.2ZM292.9,316.5L298.6,315.2L298.6,321.0L292.9,322.2ZM298.6,315.2L304.4,314.0L304.4,319.8L298.6,321.0ZM304.4,314.0L310.1,312.8L310.1,318.5L304.4,319.8ZM310.1,312.8L315.8,311.5L315.8,317.3L310.1,318.5ZM321.6,304.5L327.3,303.3L327.3,309.0L321.6,310.3ZM327.3,297.5L333.1,296.3L333.1,302.1L327.3,303.3ZM333.1,279.0L338.8,277.8L338.8,283.5L333.1,284.8ZM333.1,284.8L338.8,283.5L338.8,289.3L333.1,290.5ZM297.1,312.6L302.9,311.4L302.9,317.1L297.1,318.4ZM302.9,311.4L308.6,310.1L308.6,315.9L302.9,317.1ZM308.6,310.1L314.4,308.9L314.4,314.6L308.6,315.9ZM314.4,251.3L320.1,250.1L320.1,255.8L314.4,257.1ZM314.4,308.9L320.1,307.7L320.1,313.4L314.4,314.6ZM320.1,307.7L325.8,306.4L325.8,312.2L320.1,313.4ZM325.8,248.8L331.6,247.6L331.6,253.4L325.8,254.6ZM325.8,300.7L331.6,299.4L331.6,305.2L325.8,306.4ZM331.6,247.6L337.3,246.4L337.3,252.1L331.6,253.4ZM331.6,287.9L337.3,286.7L337.3,292.4L331.6,293.7ZM331.6,293.7L337.3,292.4L337.3,298.2L331.6,299.4ZM337.3,275.2L343.1,273.9L343.1,279.7L337.3,280.9ZM301.4,308.7L307.1,307.5L307.1,313.2L301.4,314.5ZM307.1,307.5L312.9,306.3L312.9,312.0L307.1,313.2ZM312.9,306.3L318.6,305.0L318.6,310.8L312.9,312.0ZM318.6,305.0L324.4,303.8L324.4,309.5L318.6,310.8ZM324.4,298.0L330.1,296.8L330.1,302.5L324.4,303.8ZM324.4,303.8L330.1,302.5L330.1,308.3L324.4,309.5ZM330.1,285.3L335.8,284.0L335.8,289.8L330.1,291.0ZM330.1,291.0L335.8,289.8L335.8,295.5L330.1,296.8ZM330.1,296.8L335.8,295.5L335.8,301.3L330.1,302.5ZM335.8,278.3L341.6,277.0L341.6,282.8L335.8,284.0ZM335.8,284.0L341.6,282.8L341.6,288.6L335.8,289.8ZM341.6,248.3L347.3,247.0L347.3,252.8L341.6,254.0ZM341.6,265.5L347.3,264.3L347.3,270.0L341.6,271.3ZM341.6,271.3L347.3,270.0L347.3,275.8L341.6,277.0ZM305.6,258.8L311.4,257.6L311.4,263.3L305.6,264.6ZM311.4,257.6L317.1,256.3L317.1,262.1L311.4,263.3ZM322.9,255.1L328.6,253.9L328.6,259.6L322.9,260.8ZM322.9,301.1L328.6,299.9L328.6,305.7L322.9,306.9ZM328.6,253.9L334.4,252.6L334.4,258.4L328.6,259.6ZM328.6,288.4L334.4,287.2L334.4,292.9L328.6,294.1ZM328.6,294.1L334.4,292.9L334.4,298.7L328.6,299.9ZM334.4,281.4L340.1,280.2L340.1,285.9L334.4,287.2ZM340.1,268.6L345.9,267.4L345.9,273.2L340.1,274.4ZM340.1,274.4L345.9,273.2L345.9,278.9L340.1,280.2ZM345.9,255.9L351.6,254.7L351.6,260.4L345.9,261.7ZM345.9,261.7L351.6,260.4L351.6,266.2L345.9,267.4ZM309.9,266.4L315.6,265.2L315.6,271.0L309.9,272.2ZM309.9,272.2L315.6,271.0L315.6,276.7L309.9,278.0ZM309.9,278.0L315.6,276.7L315.6,282.5L309.9,283.7ZM309.9,283.7L315.6,282.5L315.6,288.2L309.9,289.5ZM309.9,289.5L315.6,288.2L315.6,294.0L309.9,295.2ZM309.9,295.2L315.6,294.0L315.6,299.7L309.9,301.0ZM309.9,301.0L315.6,299.7L315.6,305.5L309.9,306.7ZM309.9,306.7L315.6,305.5L315.6,311.3L309.9,312.5ZM315.6,265.2L321.4,264.0L321.4,269.7L315.6,271.0ZM315.6,271.0L321.4,269.7L321.4,275.5L315.6,276.7ZM315.6,276.7L321.4,275.5L321.4,281.2L315.6,282.5ZM315.6,282.5L321.4,281.2L321.4,287.0L315.6,288.2ZM315.6,288.2L321.4,287.0L321.4,292.7L315.6,294.0ZM315.6,294.0L321.4,292.7L321.4,298.5L315.6,299.7ZM315.6,299.7L321.4,298.5L321.4,304.3L315.6,305.5ZM315.6,305.5L321.4,304.3L321.4,310.0L315.6,311.3ZM321.4,258.2L327.1,257.0L327.1,262.7L321.4,264.0ZM321.4,264.0L327.1,262.7L327.1,268.5L321.4,269.7ZM321.4,269.7L327.1,268.5L327.1,274.2L321.4,275.5ZM321.4,275.5L327.1,274.2L327.1,280.0L321.4,281.2ZM321.4,281.2L327.1,280.0L327.1,285.8L321.4,287.0ZM321.4,287.0L327.1,285.8L327.1,291.5L321.4,292.7ZM321.4,292.7L327.1,291.5L327.1,297.3L321.4,298.5ZM321.4,298.5L327.1,297.3L327.1,303.0L321.4,304.3ZM321.4,304.3L327.1,303.0L327.1,308.8L321.4,310.0ZM327.1,262.7L332.9,261.5L332.9,267.2L327.1,268.5ZM327.1,268.5L332.9,267.2L332.9,273.0L327.1,274.2ZM327.1,274.2L332.9,273.0L332.9,278.8L327.1,280.0ZM327.1,280.0L332.9,278.8L332.9,284.5L327.1,285.8ZM327.1,285.8L332.9,284.5L332.9,290.3L327.1,291.5ZM327.1,291.5L332.9,290.3L332.9,296.0L327.1,297.3ZM327.1,297.3L332.9,296.0L332.9,301.8L327.1,303.0ZM332.9,261.5L338.6,260.3L338.6,266.0L332.9,267.2ZM332.9,267.2L338.6,266.0L338.6,271.8L332.9,273.0ZM332.9,273.0L338.6,271.8L338.6,277.5L332.9,278.8ZM332.9,278.8L338.6,277.5L338.6,283.3L332.9,284.5ZM332.9,284.5L338.6,283.3L338.6,289.0L332.9,290.3ZM338.6,254.5L344.4,253.3L344.4,259.0L338.6,260.3ZM338.6,260.3L344.4,259.0L344.4,264.8L338.6,266.0ZM338.6,266.0L344.4,264.8L344.4,270.5L338.6,271.8ZM338.6,271.8L344.4,270.5L344.4,276.3L338.6,277.5ZM338.6,277.5L344.4,276.3L344.4,282.0L338.6,283.3ZM344.4,259.0L350.1,257.8L350.1,263.5L344.4,264.8ZM344.4,264.8L350.1,263.5L350.1,269.3L344.4,270.5Z"/>
<g stroke="#51b53b"><path fill="#6aee4e" d="M238.9,202.8L243.6,204.8L249.8,203.5L245.2,201.4Z"/><path fill="#65e24a" d="M238.9,202.8L243.6,204.8L243.6,211.1L238.9,209.1Z"/><path fill="#5ed345" d="M243.6,204.8L249.8,203.5L249.8,209.8L243.6,211.1Z"/></g>
<g stroke="#57b73c"><path fill="#72f04f" d="M233.2,204.0L237.8,206.1L244.0,204.7L239.4,202.7Z"/><path fill="#6ce44c" d="M233.2,204.0L237.8,206.1L237.8,212.3L233.2,210.3Z"/><path fill="#65d446" d="M237.8,206.1L244.0,204.7L244.0,211.0L237.8,212.3Z"/></g>
<g stroke="#5ab83d"><path fill="#76f150" d="M243.2,204.7L247.8,206.7L254.0,205.4L249.4,203.4Z"/><path fill="#70e64c" d="M243.2,204.7L247.8,206.7L247.8,213.0L243.2,210.9Z"/><path fill="#68d547" d="M247.8,206.7L254.0,205.4L254.0,211.6L247.8,213.0Z"/></g>
<g stroke="#49b23d"><path fill="#5fea4f" d="M227.4,205.2L232.1,207.3L238.4,205.9L233.7,203.9Z"/><path fill="#5bdf4c" d="M227.4,205.2L232.1,207.3L232.1,213.6L227.4,211.6Z"/><path fill="#55cf46" d="M232.1,207.3L238.4,205.9L238.4,212.3L232.1,213.6Z"/></g>
<g stroke="#48b13f"><path fill="#5fe953" d="M221.6,206.5L226.3,208.5L232.7,207.2L227.9,205.1Z"/><path fill="#5ade4f" d="M221.6,206.5L226.3,208.5L226.3,214.9L221.6,212.8Z"/><path fill="#54ce49" d="M226.3,208.5L232.7,207.2L232.7,213.5L226.3,214.9Z"/></g>
<g stroke="#6a0d88"><path fill="#8c11b2" d="M197.3,256.6L203.1,259.2L211.0,257.5L205.2,254.9Z"/><path fill="#8510aa" d="M197.3,256.6L203.1,259.2L203.1,267.1L197.3,264.5Z"/><path fill="#7c0f9e" d="M203.1,259.2L211.0,257.5L211.0,265.4L203.1,267.1Z"/></g>
<g stroke="#85bd46"><path fill="#aef85c" d="M232.0,207.3L236.4,209.3L242.3,208.0L237.9,206.0Z"/><path fill="#a6ec57" d="M232.0,207.3L236.4,209.3L236.4,215.2L232.0,213.3Z"/><path fill="#9bdb51" d="M236.4,209.3L242.3,208.0L242.3,213.9L236.4,215.2Z"/></g>
<g stroke="#88bd46"><path fill="#b2f85c" d="M199.0,251.9L203.4,253.9L209.3,252.6L204.9,250.7Z"/><path fill="#aaec58" d="M199.0,251.9L203.4,253.9L203.4,259.8L199.0,257.9Z"/><path fill="#9edb52" d="M203.4,253.9L209.3,252.6L209.3,258.5L203.4,259.8Z"/></g>
<g stroke="#58b73d"><path fill="#73f050" d="M216.0,207.8L220.6,209.8L226.8,208.5L222.2,206.4Z"/><path fill="#6ee54c" d="M216.0,207.8L220.6,209.8L220.6,216.0L216.0,214.0Z"/><path fill="#66d547" d="M220.6,209.8L226.8,208.5L226.8,214.7L220.6,216.0Z"/></g>
<g stroke="#7dbc44"><path fill="#a4f75a" d="M241.9,207.9L246.4,209.9L252.4,208.6L247.9,206.7Z"/><path fill="#9deb55" d="M241.9,207.9L246.4,209.9L246.4,215.9L241.9,213.9Z"/><path fill="#92db4f" d="M246.4,209.9L252.4,208.6L252.4,214.6L246.4,215.9Z"/></g>
<g stroke="#2f908e"><path fill="#3ebdba" d="M198.2,245.7L203.3,247.9L210.1,246.5L205.0,244.2Z"/><path fill="#3bb4b2" d="M198.2,245.7L203.3,247.9L203.3,254.7L198.2,252.5Z"/><path fill="#37a8a5" d="M203.3,247.9L210.1,246.5L210.1,253.3L203.3,254.7Z"/></g>
<g stroke="#2f908e"><path fill="#3ebdba" d="M225.5,208.1L230.5,210.3L237.3,208.8L232.3,206.6Z"/><path fill="#3bb4b2" d="M225.5,208.1L230.5,210.3L230.5,217.1L225.5,214.9Z"/><path fill="#37a8a5" d="M230.5,210.3L237.3,208.8L237.3,215.7L230.5,217.1Z"/></g>
<g stroke="#6cbb41"><path fill="#8ef655" d="M210.3,214.8L214.9,216.8L220.9,215.5L216.4,213.5Z"/><path fill="#87ea51" d="M210.3,214.8L214.9,216.8L214.9,222.9L210.3,220.9Z"/><path fill="#7dda4c" d="M214.9,216.8L220.9,215.5L220.9,221.6L214.9,222.9Z"/></g>
<g stroke="#2f908e"><path fill="#3ebdba" d="M202.5,259.1L207.5,261.3L214.3,259.9L209.3,257.6Z"/><path fill="#3bb4b2" d="M202.5,259.1L207.5,261.3L207.5,268.1L202.5,265.9Z"/><path fill="#37a8a5" d="M207.5,261.3L214.3,259.9L214.3,266.7L207.5,268.1Z"/></g>
<g stroke="#309488"><path fill="#3fc3b2" d="M198.3,234.2L203.3,236.4L210.0,235.0L205.0,232.8Z"/><path fill="#3cb9aa" d="M198.3,234.2L203.3,236.4L203.3,243.2L198.3,241.0Z"/><path fill="#38ac9e" d="M203.3,236.4L210.0,235.0L210.0,241.7L203.3,243.2Z"/></g>
<g stroke="#4f60c2"><path fill="#677efe" d="M245.1,209.1L250.5,211.5L257.7,209.9L252.3,207.6Z"/><path fill="#6278f2" d="M245.1,209.1L250.5,211.5L250.5,218.8L245.1,216.4Z"/><path fill="#5b70e1" d="M250.5,211.5L257.7,209.9L257.7,217.2L250.5,218.8Z"/></g>
<g stroke="#46af45"><path fill="#5ce65b" d="M204.3,210.1L209.1,212.2L215.5,210.9L210.7,208.8Z"/><path fill="#58db57" d="M204.3,210.1L209.1,212.2L209.1,218.6L204.3,216.6Z"/><path fill="#52cc51" d="M209.1,212.2L215.5,210.9L215.5,217.3L209.1,218.6Z"/></g>
<g stroke="#91bd46"><path fill="#bef95c" d="M199.1,223.2L203.4,225.1L209.3,223.9L204.9,221.9Z"/><path fill="#b5ed58" d="M199.1,223.2L203.4,225.1L203.4,231.0L199.1,229.1Z"/><path fill="#a9dc52" d="M203.4,225.1L209.3,223.9L209.3,229.7L203.4,231.0Z"/></g>
<g stroke="#47b043"><path fill="#5de757" d="M202.9,242.1L207.6,244.1L214.0,242.8L209.2,240.7Z"/><path fill="#59dc53" d="M202.9,242.1L207.6,244.1L207.6,250.5L202.9,248.4Z"/><path fill="#53cd4d" d="M207.6,244.1L214.0,242.8L214.0,249.2L207.6,250.5Z"/></g>
<g stroke="#30928b"><path fill="#3fc0b7" d="M206.8,261.0L211.8,263.2L218.6,261.7L213.5,259.5Z"/><path fill="#3cb7ae" d="M206.8,261.0L211.8,263.2L211.8,270.0L206.8,267.8Z"/><path fill="#38aaa2" d="M211.8,263.2L218.6,261.7L218.6,268.5L211.8,270.0Z"/></g>
<g stroke="#4ab33a"><path fill="#61eb4c" d="M214.4,210.8L219.1,212.9L225.4,211.5L220.7,209.5Z"/><path fill="#5ce048" d="M214.4,210.8L219.1,212.9L219.1,219.2L214.4,217.2Z"/><path fill="#56d043" d="M219.1,212.9L225.4,211.5L225.4,217.9L219.1,219.2Z"/></g>
<g stroke="#3683a4"><path fill="#48acd8" d="M202.3,236.0L207.5,238.3L214.5,236.7L209.3,234.5Z"/><path fill="#44a3cd" d="M202.3,236.0L207.5,238.3L207.5,245.2L202.3,243.0Z"/><path fill="#3f98bf" d="M207.5,238.3L214.5,236.7L214.5,243.7L207.5,245.2Z"/></g>
<g stroke="#4f60c2"><path fill="#677efe" d="M210.6,274.1L216.0,276.5L223.2,274.9L217.9,272.6Z"/><path fill="#6278f2" d="M210.6,274.1L216.0,276.5L216.0,283.7L210.6,281.4Z"/><path fill="#5b70e1" d="M216.0,276.5L223.2,274.9L223.2,282.2L216.0,283.7Z"/></g>
<g stroke="#3da560"><path fill="#50d97e" d="M198.5,211.3L203.3,213.4L209.8,212.0L205.0,209.9Z"/><path fill="#4ccf78" d="M198.5,211.3L203.3,213.4L203.3,220.0L198.5,217.9Z"/><path fill="#47c070" d="M203.3,213.4L209.8,212.0L209.8,218.6L203.3,220.0Z"/></g>
<g stroke="#64bb40"><path fill="#84f553" d="M234.6,218.0L239.1,220.0L245.3,218.7L240.7,216.7Z"/><path fill="#7de94f" d="M234.6,218.0L239.1,220.0L239.1,226.1L234.6,224.1Z"/><path fill="#75d94a" d="M239.1,220.0L245.3,218.7L245.3,224.8L239.1,226.1Z"/></g>
<g stroke="#46af47"><path fill="#5be55e" d="M208.6,212.0L213.3,214.1L219.7,212.7L215.0,210.6Z"/><path fill="#57da59" d="M208.6,212.0L213.3,214.1L213.3,220.5L208.6,218.4Z"/><path fill="#51cb53" d="M213.3,214.1L219.7,212.7L219.7,219.2L213.3,220.5Z"/></g>
<g stroke="#43ab51"><path fill="#57e16a" d="M260.0,212.1L264.8,214.2L271.3,212.8L266.5,210.7Z"/><path fill="#53d665" d="M260.0,212.1L264.8,214.2L264.8,220.7L260.0,218.6Z"/><path fill="#4dc75e" d="M264.8,214.2L271.3,212.8L271.3,219.3L264.8,220.7Z"/></g>
<g stroke="#3ca562"><path fill="#4fd881" d="M215.5,282.1L220.3,284.3L226.9,282.9L222.0,280.7Z"/><path fill="#4bce7b" d="M215.5,282.1L220.3,284.3L220.3,290.9L215.5,288.7Z"/><path fill="#46bf72" d="M220.3,284.3L226.9,282.9L226.9,289.4L220.3,290.9Z"/></g>
<g stroke="#90bd46"><path fill="#bdf95c" d="M211.8,257.6L216.2,259.5L222.0,258.3L217.7,256.4Z"/><path fill="#b4ed58" d="M211.8,257.6L216.2,259.5L216.2,265.4L211.8,263.5Z"/><path fill="#a8dc52" d="M216.2,259.5L222.0,258.3L222.0,264.2L216.2,265.4Z"/></g>
<g stroke="#84bd46"><path fill="#adf85b" d="M203.2,213.5L207.6,215.5L213.6,214.2L209.2,212.2Z"/><path fill="#a5ec57" d="M203.2,213.5L207.6,215.5L207.6,221.4L203.2,219.5Z"/><path fill="#9adb51" d="M207.6,215.5L213.6,214.2L213.6,220.1L207.6,221.4Z"/></g>
<g stroke="#49b33b"><path fill="#60eb4e" d="M228.7,213.4L233.3,215.4L239.7,214.1L235.0,212.0Z"/><path fill="#5bdf4a" d="M228.7,213.4L233.3,215.4L233.3,221.8L228.7,219.7Z"/><path fill="#55d045" d="M233.3,215.4L239.7,214.1L239.7,220.4L233.3,221.8Z"/></g>
<g stroke="#6732b1"><path fill="#8741e8" d="M211.8,213.2L217.4,215.7L225.0,214.1L219.4,211.6Z"/><path fill="#803edd" d="M211.8,213.2L217.4,215.7L217.4,223.4L211.8,220.9Z"/><path fill="#773acd" d="M217.4,215.7L225.0,214.1L225.0,221.7L217.4,223.4Z"/></g>
<g stroke="#48b141"><path fill="#5ee855" d="M238.6,214.0L243.3,216.1L249.7,214.7L245.0,212.6Z"/><path fill="#59dd51" d="M238.6,214.0L243.3,216.1L243.3,222.4L238.6,220.4Z"/><path fill="#53ce4b" d="M243.3,216.1L249.7,214.7L249.7,221.1L243.3,222.4Z"/></g>
<g stroke="#6fbc42"><path fill="#91f656" d="M264.6,214.2L269.1,216.2L275.2,214.9L270.7,212.9Z"/><path fill="#8beb52" d="M264.6,214.2L269.1,216.2L269.1,222.3L264.6,220.3Z"/><path fill="#81da4c" d="M269.1,216.2L275.2,214.9L275.2,221.0L269.1,222.3Z"/></g>
<g stroke="#5cb83e"><path fill="#78f251" d="M248.8,220.5L253.4,222.5L259.6,221.2L255.0,219.1Z"/><path fill="#73e64d" d="M248.8,220.5L253.4,222.5L253.4,228.7L248.8,226.7Z"/><path fill="#6ad648" d="M253.4,222.5L259.6,221.2L259.6,227.4L253.4,228.7Z"/></g>
<g stroke="#2f908e"><path fill="#3ebdba" d="M215.3,264.7L220.3,267.0L227.1,265.5L222.1,263.3Z"/><path fill="#3bb4b2" d="M215.3,264.7L220.3,267.0L220.3,273.8L215.3,271.6Z"/><path fill="#37a8a5" d="M220.3,267.0L227.1,265.5L227.1,272.3L220.3,273.8Z"/></g>
<g stroke="#359d78"><path fill="#45ce9d" d="M219.7,284.0L224.6,286.2L231.2,284.7L226.3,282.5Z"/><path fill="#42c496" d="M219.7,284.0L224.6,286.2L224.6,292.8L219.7,290.6Z"/><path fill="#3db68b" d="M224.6,286.2L231.2,284.7L231.2,291.4L224.6,292.8Z"/></g>
<g stroke="#349c7a"><path fill="#44cca1" d="M222.6,214.4L227.6,216.6L234.2,215.2L229.3,213.0Z"/><path fill="#41c399" d="M222.6,214.4L227.6,216.6L227.6,223.3L222.6,221.1Z"/><path fill="#3cb58e" d="M227.6,216.6L234.2,215.2L234.2,221.8L227.6,223.3Z"/></g>
<g stroke="#6a0d88"><path fill="#8c11b2" d="M231.6,214.4L237.4,217.0L245.3,215.3L239.4,212.7Z"/><path fill="#8510aa" d="M231.6,214.4L237.4,217.0L237.4,224.8L231.6,222.3Z"/><path fill="#7c0f9e" d="M237.4,217.0L245.3,215.3L245.3,223.1L237.4,224.8Z"/></g>
<g stroke="#63ba3f"><path fill="#82f553" d="M258.8,215.4L263.4,217.4L269.5,216.1L265.0,214.1Z"/><path fill="#7ce94f" d="M258.8,215.4L263.4,217.4L263.4,223.6L258.8,221.5Z"/><path fill="#73d94a" d="M263.4,217.4L269.5,216.1L269.5,222.2L263.4,223.6Z"/></g>
<g stroke="#6732b1"><path fill="#8741e8" d="M223.1,291.1L228.7,293.6L236.3,291.9L230.7,289.4Z"/><path fill="#803edd" d="M223.1,291.1L228.7,293.6L228.7,301.2L223.1,298.7Z"/><path fill="#773acd" d="M228.7,293.6L236.3,291.9L236.3,299.6L228.7,301.2Z"/></g>
<g stroke="#51b53b"><path fill="#6aee4e" d="M243.0,215.9L247.6,218.0L253.9,216.6L249.2,214.6Z"/><path fill="#65e34a" d="M243.0,215.9L247.6,218.0L247.6,224.2L243.0,222.2Z"/><path fill="#5ed345" d="M247.6,218.0L253.9,216.6L253.9,222.9L247.6,224.2Z"/></g>
<g stroke="#329a7f"><path fill="#42caa6" d="M252.6,222.1L257.6,224.3L264.3,222.8L259.3,220.6Z"/><path fill="#3fc19e" d="M252.6,222.1L257.6,224.3L257.6,231.0L252.6,228.8Z"/><path fill="#3ab393" d="M257.6,224.3L264.3,222.8L264.3,229.5L257.6,231.0Z"/></g>
<g stroke="#80bc45"><path fill="#a8f75a" d="M224.5,280.5L228.9,282.4L234.9,281.1L230.5,279.2Z"/><path fill="#a0ec56" d="M224.5,280.5L228.9,282.4L228.9,288.4L224.5,286.5Z"/><path fill="#95db50" d="M228.9,282.4L234.9,281.1L234.9,287.1L228.9,288.4Z"/></g>
<g stroke="#47b142"><path fill="#5ee856" d="M221.4,217.7L226.1,219.8L232.5,218.4L227.8,216.3Z"/><path fill="#59dd52" d="M221.4,217.7L226.1,219.8L226.1,226.2L221.4,224.1Z"/><path fill="#53cd4c" d="M226.1,219.8L232.5,218.4L232.5,224.8L226.1,226.2Z"/></g>
<g stroke="#48b23d"><path fill="#5fea51" d="M247.2,217.8L251.9,219.8L258.2,218.5L253.5,216.4Z"/><path fill="#5bde4d" d="M247.2,217.8L251.9,219.8L251.9,226.2L247.2,224.1Z"/><path fill="#54cf47" d="M251.9,219.8L258.2,218.5L258.2,224.8L251.9,226.2Z"/></g>
<g stroke="#2f908e"><path fill="#3ebdba" d="M272.5,217.5L277.6,219.8L284.4,218.3L279.3,216.1Z"/><path fill="#3bb4b2" d="M272.5,217.5L277.6,219.8L277.6,226.6L272.5,224.4Z"/><path fill="#37a8a5" d="M277.6,219.8L284.4,218.3L284.4,225.1L277.6,226.6Z"/></g>
<g stroke="#6abb41"><path fill="#8cf655" d="M215.9,224.8L220.4,226.8L226.5,225.5L222.0,223.5Z"/><path fill="#85ea51" d="M215.9,224.8L220.4,226.8L220.4,232.9L215.9,230.9Z"/><path fill="#7cda4b" d="M220.4,226.8L226.5,225.5L226.5,231.6L220.4,232.9Z"/></g>
<g stroke="#6732b1"><path fill="#8741e8" d="M231.6,300.6L237.2,303.1L244.9,301.4L239.2,299.0Z"/><path fill="#803edd" d="M231.6,300.6L237.2,303.1L237.2,310.7L231.6,308.2Z"/><path fill="#773acd" d="M237.2,303.1L244.9,301.4L244.9,309.1L237.2,310.7Z"/></g>
<g stroke="#84bd46"><path fill="#adf85b" d="M267.5,219.3L271.9,221.2L277.9,219.9L273.5,218.0Z"/><path fill="#a5ec57" d="M267.5,219.3L271.9,221.2L271.9,227.2L267.5,225.2Z"/><path fill="#99db51" d="M271.9,221.2L277.9,219.9L277.9,225.9L271.9,227.2Z"/></g>
<g stroke="#90bd46"><path fill="#bef95c" d="M220.3,238.4L224.7,240.3L230.6,239.0L226.2,237.1Z"/><path fill="#b5ed58" d="M220.3,238.4L224.7,240.3L224.7,246.2L220.3,244.2Z"/><path fill="#a8dc52" d="M224.7,240.3L230.6,239.0L230.6,244.9L224.7,246.2Z"/></g>
<g stroke="#90bd46"><path fill="#bdf85c" d="M228.9,276.7L233.2,278.6L239.1,277.3L234.7,275.4Z"/><path fill="#b4ed58" d="M228.9,276.7L233.2,278.6L233.2,284.5L228.9,282.5Z"/><path fill="#a7dc52" d="M233.2,278.6L239.1,277.3L239.1,283.2L233.2,284.5Z"/></g>
<g stroke="#49b33b"><path fill="#60eb4d" d="M225.7,219.6L230.4,221.7L236.7,220.3L232.0,218.2Z"/><path fill="#5ce049" d="M225.7,219.6L230.4,221.7L230.4,228.0L225.7,225.9Z"/><path fill="#55d044" d="M230.4,221.7L236.7,220.3L236.7,226.6L230.4,228.0Z"/></g>
<g stroke="#4f60c2"><path fill="#677efe" d="M219.2,231.8L224.5,234.2L231.7,232.7L226.4,230.3Z"/><path fill="#6278f2" d="M219.2,231.8L224.5,234.2L224.5,241.5L219.2,239.1Z"/><path fill="#5b70e1" d="M224.5,234.2L231.7,232.7L231.7,239.9L224.5,241.5Z"/></g>
<g stroke="#6a0d88"><path fill="#8c11b2" d="M227.1,264.0L233.0,266.6L240.8,264.9L235.0,262.3Z"/><path fill="#8510aa" d="M227.1,264.0L233.0,266.6L233.0,274.5L227.1,271.9Z"/><path fill="#7c0f9e" d="M233.0,266.6L240.8,264.9L240.8,272.8L233.0,274.5Z"/></g>
<g stroke="#6732b1"><path fill="#8741e8" d="M231.6,283.3L237.2,285.8L244.9,284.2L239.2,281.7Z"/><path fill="#803edd" d="M231.6,283.3L237.2,285.8L237.2,293.5L231.6,291.0Z"/><path fill="#773acd" d="M237.2,285.8L244.9,284.2L244.9,291.8L237.2,293.5Z"/></g>
<g stroke="#54b63c"><path fill="#6eef4f" d="M220.0,220.9L224.6,222.9L230.9,221.6L226.3,219.5Z"/><path fill="#69e44b" d="M220.0,220.9L224.6,222.9L224.6,229.2L220.0,227.1Z"/><path fill="#62d446" d="M224.6,222.9L230.9,221.6L230.9,227.8L224.6,229.2Z"/></g>
<g stroke="#6ebc41"><path fill="#90f656" d="M245.9,221.0L250.4,223.0L256.5,221.7L252.0,219.7Z"/><path fill="#89ea52" d="M245.9,221.0L250.4,223.0L250.4,229.1L245.9,227.1Z"/><path fill="#80da4c" d="M250.4,223.0L256.5,221.7L256.5,227.8L250.4,229.1Z"/></g>
<g stroke="#8abd46"><path fill="#b6f85c" d="M271.8,221.2L276.2,223.1L282.1,221.8L277.7,219.9Z"/><path fill="#adec58" d="M271.8,221.2L276.2,223.1L276.2,229.0L271.8,227.1Z"/><path fill="#a1dc52" d="M276.2,223.1L282.1,221.8L282.1,227.8L276.2,229.0Z"/></g>
<g stroke="#319785"><path fill="#40c6ae" d="M223.9,239.8L228.8,242.0L235.6,240.5L230.6,238.3Z"/><path fill="#3dbca6" d="M223.9,239.8L228.8,242.0L228.8,248.7L223.9,246.5Z"/><path fill="#39af9a" d="M228.8,242.0L235.6,240.5L235.6,247.3L228.8,248.7Z"/></g>
<g stroke="#7ebc44"><path fill="#a5f75a" d="M230.2,221.7L234.7,223.6L240.7,222.3L236.2,220.4Z"/><path fill="#9deb56" d="M230.2,221.7L234.7,223.6L234.7,229.6L230.2,227.7Z"/><path fill="#92db50" d="M234.7,223.6L240.7,222.3L240.7,228.3L234.7,229.6Z"/></g>
<g stroke="#42ab51"><path fill="#57e16a" d="M255.6,221.5L260.4,223.6L266.8,222.2L262.0,220.1Z"/><path fill="#53d665" d="M255.6,221.5L260.4,223.6L260.4,230.0L255.6,227.9Z"/><path fill="#4dc75e" d="M260.4,223.6L266.8,222.2L266.8,228.7L260.4,230.0Z"/></g>
<g stroke="#43ac4f"><path fill="#58e267" d="M281.3,221.5L286.1,223.6L292.6,222.2L287.8,220.1Z"/><path fill="#54d762" d="M281.3,221.5L286.1,223.6L286.1,230.1L281.3,228.0Z"/><path fill="#4ec85b" d="M286.1,223.6L292.6,222.2L292.6,228.7L286.1,230.1Z"/></g>
<g stroke="#50b53b"><path fill="#69ed4d" d="M265.8,228.0L270.4,230.0L276.7,228.7L272.0,226.6Z"/><path fill="#64e24a" d="M265.8,228.0L270.4,230.0L270.4,236.3L265.8,234.2Z"/><path fill="#5dd245" d="M270.4,230.0L276.7,228.7L276.7,234.9L270.4,236.3Z"/></g>
<g stroke="#43ac50"><path fill="#58e169" d="M239.8,222.0L244.6,224.2L251.1,222.8L246.3,220.7Z"/><path fill="#54d764" d="M239.8,222.0L244.6,224.2L244.6,230.6L239.8,228.5Z"/><path fill="#4ec85d" d="M244.6,224.2L251.1,222.8L251.1,229.2L244.6,230.6Z"/></g>
<g stroke="#92bd46"><path fill="#bff95c" d="M233.1,267.0L237.5,269.0L243.3,267.7L239.0,265.8Z"/><path fill="#b6ed58" d="M233.1,267.0L237.5,269.0L237.5,274.8L233.1,272.9Z"/><path fill="#a9dc52" d="M237.5,269.0L243.3,267.7L243.3,273.6L237.5,274.8Z"/></g>
<g stroke="#75bc43"><path fill="#99f758" d="M234.5,223.5L238.9,225.5L245.0,224.2L240.5,222.2Z"/><path fill="#92eb53" d="M234.5,223.5L238.9,225.5L238.9,231.6L234.5,229.6Z"/><path fill="#88da4e" d="M238.9,225.5L245.0,224.2L245.0,230.2L238.9,231.6Z"/></g>
<g stroke="#73bc42"><path fill="#96f657" d="M228.7,236.3L233.2,238.2L239.2,236.9L234.8,235.0Z"/><path fill="#8feb53" d="M228.7,236.3L233.2,238.2L233.2,244.3L228.7,242.3Z"/><path fill="#85da4d" d="M233.2,238.2L239.2,236.9L239.2,243.0L233.2,244.3Z"/></g>
<g stroke="#59b73d"><path fill="#75f150" d="M270.1,224.1L274.7,226.2L280.9,224.8L276.3,222.8Z"/><path fill="#6fe54c" d="M270.1,224.1L274.7,226.2L274.7,232.4L270.1,230.3Z"/><path fill="#67d547" d="M274.7,226.2L280.9,224.8L280.9,231.0L274.7,232.4Z"/></g>
<g stroke="#92bd46"><path fill="#c0f95c" d="M237.4,268.9L241.7,270.8L247.6,269.6L243.2,267.7Z"/><path fill="#b7ed58" d="M237.4,268.9L241.7,270.8L241.7,276.7L237.4,274.8Z"/><path fill="#aadc52" d="M241.7,270.8L247.6,269.6L247.6,275.4L241.7,276.7Z"/></g>
<g stroke="#3683a4"><path fill="#48acd8" d="M240.7,287.4L245.8,289.7L252.8,288.2L247.7,285.9Z"/><path fill="#44a3cd" d="M240.7,287.4L245.8,289.7L245.8,296.7L240.7,294.4Z"/><path fill="#3f98bf" d="M245.8,289.7L252.8,288.2L252.8,295.2L245.8,296.7Z"/></g>
<g stroke="#319784"><path fill="#40c6ad" d="M245.2,306.7L250.1,308.9L256.9,307.5L251.9,305.3Z"/><path fill="#3dbda5" d="M245.2,306.7L250.1,308.9L250.1,315.7L245.2,313.5Z"/><path fill="#39b099" d="M250.1,308.9L256.9,307.5L256.9,314.2L250.1,315.7Z"/></g>
<g stroke="#5cb83e"><path fill="#78f251" d="M280.1,224.8L284.7,226.8L290.9,225.5L286.3,223.4Z"/><path fill="#73e64d" d="M280.1,224.8L284.7,226.8L284.7,233.0L280.1,231.0Z"/><path fill="#6bd648" d="M284.7,226.8L290.9,225.5L290.9,231.7L284.7,233.0Z"/></g>
<g stroke="#319883"><path fill="#40c7ac" d="M263.9,225.1L268.9,227.3L275.6,225.8L270.6,223.6Z"/><path fill="#3dbea4" d="M263.9,225.1L268.9,227.3L268.9,234.0L263.9,231.8Z"/><path fill="#39b098" d="M268.9,227.3L275.6,225.8L275.6,232.6L268.9,234.0Z"/></g>
<g stroke="#74bc43"><path fill="#98f757" d="M290.2,225.5L294.7,227.5L300.7,226.2L296.3,224.2Z"/><path fill="#91eb53" d="M290.2,225.5L294.7,227.5L294.7,233.5L290.2,231.6Z"/><path fill="#87da4d" d="M294.7,227.5L300.7,226.2L300.7,232.2L294.7,233.5Z"/></g>
<g stroke="#76bc43"><path fill="#9af758" d="M248.7,226.0L253.2,228.0L259.2,226.7L254.8,224.7Z"/><path fill="#93eb54" d="M248.7,226.0L253.2,228.0L253.2,234.1L248.7,232.1Z"/><path fill="#89da4e" d="M253.2,228.0L259.2,226.7L259.2,232.8L253.2,234.1Z"/></g>
<g stroke="#2f908e"><path fill="#3ebdba" d="M232.3,232.0L237.4,234.2L244.2,232.7L239.1,230.5Z"/><path fill="#3bb4b2" d="M232.3,232.0L237.4,234.2L237.4,241.0L232.3,238.8Z"/><path fill="#37a8a5" d="M237.4,234.2L244.2,232.7L244.2,239.6L237.4,241.0Z"/></g>
<g stroke="#4f60c2"><path fill="#677efe" d="M273.4,225.4L278.8,227.8L286.0,226.2L280.7,223.9Z"/><path fill="#6278f2" d="M273.4,225.4L278.8,227.8L278.8,235.0L273.4,232.7Z"/><path fill="#5b70e1" d="M278.8,227.8L286.0,226.2L286.0,233.5L278.8,235.0Z"/></g>
<g stroke="#6a0d88"><path fill="#8c11b2" d="M239.9,269.7L245.7,272.3L253.6,270.6L247.8,268.0Z"/><path fill="#8510aa" d="M239.9,269.7L245.7,272.3L245.7,280.1L239.9,277.6Z"/><path fill="#7c0f9e" d="M245.7,272.3L253.6,270.6L253.6,278.4L245.7,280.1Z"/></g>
<g stroke="#3ca562"><path fill="#4fd881" d="M249.6,308.7L254.4,310.9L261.0,309.5L256.1,307.3Z"/><path fill="#4bce7b" d="M249.6,308.7L254.4,310.9L254.4,317.4L249.6,315.3Z"/><path fill="#46c072" d="M254.4,310.9L261.0,309.5L261.0,316.0L254.4,317.4Z"/></g>
<g stroke="#87bd46"><path fill="#b1f85c" d="M233.1,226.7L237.5,228.6L243.4,227.4L239.0,225.4Z"/><path fill="#a9ec58" d="M233.1,226.7L237.5,228.6L237.5,234.6L233.1,232.6Z"/><path fill="#9ddb52" d="M237.5,228.6L243.4,227.4L243.4,233.3L237.5,234.6Z"/></g>
<g stroke="#6abb41"><path fill="#8bf655" d="M258.7,226.7L263.2,228.7L269.3,227.3L264.8,225.3Z"/><path fill="#84ea51" d="M258.7,226.7L263.2,228.7L263.2,234.8L258.7,232.8Z"/><path fill="#7bda4b" d="M263.2,228.7L269.3,227.3L269.3,233.5L263.2,234.8Z"/></g>
<g stroke="#3d7bb0"><path fill="#50a1e7" d="M283.6,226.2L288.8,228.5L295.9,227.0L290.6,224.6Z"/><path fill="#4c99dc" d="M283.6,226.2L288.8,228.5L288.8,235.6L283.6,233.2Z"/><path fill="#478fcc" d="M288.8,228.5L295.9,227.0L295.9,234.0L288.8,235.6Z"/></g>
<g stroke="#5ab83d"><path fill="#77f150" d="M268.6,233.0L273.2,235.0L279.4,233.7L274.8,231.7Z"/><path fill="#71e64d" d="M268.6,233.0L273.2,235.0L273.2,241.2L268.6,239.2Z"/><path fill="#69d647" d="M273.2,235.0L279.4,233.7L279.4,239.9L273.2,241.2Z"/></g>
<g stroke="#6732b1"><path fill="#8741e8" d="M241.6,226.4L247.3,228.9L254.9,227.3L249.2,224.8Z"/><path fill="#803edd" d="M241.6,226.4L247.3,228.9L247.3,236.5L241.6,234.0Z"/><path fill="#773acd" d="M247.3,228.9L254.9,227.3L254.9,234.9L247.3,236.5Z"/></g>
<g stroke="#5652c5"><path fill="#706bff" d="M293.3,226.7L298.8,229.1L306.1,227.5L300.7,225.1Z"/><path fill="#6b66f7" d="M293.3,226.7L298.8,229.1L298.8,236.4L293.3,234.0Z"/><path fill="#635fe5" d="M298.8,229.1L306.1,227.5L306.1,234.8L298.8,236.4Z"/></g>
<g stroke="#4f60c2"><path fill="#677efe" d="M244.7,277.7L250.1,280.0L257.3,278.5L251.9,276.1Z"/><path fill="#6278f2" d="M244.7,277.7L250.1,280.0L250.1,287.3L244.7,284.9Z"/><path fill="#5b70e1" d="M250.1,280.0L257.3,278.5L257.3,285.7L250.1,287.3Z"/></g>
<g stroke="#8abd46"><path fill="#b5f85c" d="M253.1,228.0L257.5,229.9L263.4,228.7L259.0,226.7Z"/><path fill="#acec58" d="M253.1,228.0L257.5,229.9L257.5,235.9L253.1,233.9Z"/><path fill="#a0dc52" d="M257.5,229.9L263.4,228.7L263.4,234.6L257.5,235.9Z"/></g>
<g stroke="#67bb40"><path fill="#87f654" d="M262.9,228.5L267.5,230.5L273.6,229.2L269.0,227.2Z"/><path fill="#81ea50" d="M262.9,228.5L267.5,230.5L267.5,236.7L262.9,234.7Z"/><path fill="#78da4b" d="M267.5,230.5L273.6,229.2L273.6,235.3L267.5,236.7Z"/></g>
<g stroke="#4db43a"><path fill="#65ec4d" d="M288.5,228.5L293.2,230.5L299.5,229.2L294.8,227.1Z"/><path fill="#60e149" d="M288.5,228.5L293.2,230.5L293.2,236.8L288.5,234.8Z"/><path fill="#5ad144" d="M293.2,230.5L299.5,229.2L299.5,235.5L293.2,236.8Z"/></g>
<g stroke="#5bb83e"><path fill="#78f251" d="M311.4,292.4L316.0,294.4L322.2,293.1L317.6,291.1Z"/><path fill="#72e64d" d="M311.4,292.4L316.0,294.4L316.0,300.6L311.4,298.6Z"/><path fill="#6ad648" d="M316.0,294.4L322.2,293.1L322.2,299.3L316.0,300.6Z"/></g>
<g stroke="#66bb40"><path fill="#85f554" d="M257.2,235.5L261.7,237.5L267.8,236.2L263.3,234.2Z"/><path fill="#7fea50" d="M257.2,235.5L261.7,237.5L261.7,243.7L257.2,241.7Z"/><path fill="#76d94a" d="M261.7,237.5L267.8,236.2L267.8,242.3L261.7,243.7Z"/></g>
<g stroke="#56b73c"><path fill="#71f04f" d="M298.6,229.2L303.2,231.2L309.4,229.9L304.8,227.8Z"/><path fill="#6ce44c" d="M298.6,229.2L303.2,231.2L303.2,237.4L298.6,235.4Z"/><path fill="#64d446" d="M303.2,231.2L309.4,229.9L309.4,236.1L303.2,237.4Z"/></g>
<g stroke="#51b53b"><path fill="#6aee4e" d="M254.1,299.2L258.7,301.3L265.0,300.0L260.3,297.9Z"/><path fill="#65e34a" d="M254.1,299.2L258.7,301.3L258.7,307.6L254.1,305.5Z"/><path fill="#5ed345" d="M258.7,301.3L265.0,300.0L265.0,306.2L258.7,307.6Z"/></g>
<g stroke="#69bb40"><path fill="#89f655" d="M282.9,229.8L287.5,231.8L293.6,230.5L289.0,228.5Z"/><path fill="#83ea51" d="M282.9,229.8L287.5,231.8L287.5,237.9L282.9,235.9Z"/><path fill="#7ada4b" d="M287.5,231.8L293.6,230.5L293.6,236.6L287.5,237.9Z"/></g>
<g stroke="#72bc42"><path fill="#95f657" d="M293.0,236.3L297.5,238.2L303.5,236.9L299.0,234.9Z"/><path fill="#8eeb53" d="M293.0,236.3L297.5,238.2L297.5,244.3L293.0,242.3Z"/><path fill="#84da4d" d="M297.5,238.2L303.5,236.9L303.5,243.0L297.5,244.3Z"/></g>
<g stroke="#4f60c2"><path fill="#677efe" d="M249.0,273.8L254.3,276.2L261.6,274.6L256.2,272.2Z"/><path fill="#6278f2" d="M249.0,273.8L254.3,276.2L254.3,283.4L249.0,281.0Z"/><path fill="#5b70e1" d="M254.3,276.2L261.6,274.6L261.6,281.9L254.3,283.4Z"/></g>
<g stroke="#3683a4"><path fill="#48acd8" d="M257.7,312.2L262.9,314.5L269.9,313.0L264.7,310.7Z"/><path fill="#44a3cd" d="M257.7,312.2L262.9,314.5L262.9,321.5L257.7,319.2Z"/><path fill="#3f98bf" d="M262.9,314.5L269.9,313.0L269.9,320.0L262.9,321.5Z"/></g>
<g stroke="#47b044"><path fill="#5de759" d="M266.9,230.3L271.7,232.4L278.1,231.0L273.3,228.9Z"/><path fill="#58dc55" d="M266.9,230.3L271.7,232.4L271.7,238.8L266.9,236.7Z"/><path fill="#52cc4f" d="M271.7,232.4L278.1,231.0L278.1,237.4L271.7,238.8Z"/></g>
<g stroke="#46af47"><path fill="#5ce55d" d="M251.2,230.8L255.9,232.9L262.3,231.6L257.6,229.5Z"/><path fill="#57da59" d="M251.2,230.8L255.9,232.9L255.9,239.4L251.2,237.3Z"/><path fill="#51cb52" d="M255.9,232.9L262.3,231.6L262.3,238.0L255.9,239.4Z"/></g>
<g stroke="#4fb53b"><path fill="#68ed4d" d="M277.0,231.0L281.7,233.0L288.0,231.7L283.3,229.6Z"/><path fill="#63e24a" d="M277.0,231.0L281.7,233.0L281.7,239.3L277.0,237.3Z"/><path fill="#5cd244" d="M281.7,233.0L288.0,231.7L288.0,238.0L281.7,239.3Z"/></g>
<g stroke="#38a06e"><path fill="#4ad290" d="M302.5,230.8L307.4,233.0L314.0,231.6L309.1,229.4Z"/><path fill="#46c88a" d="M302.5,230.8L307.4,233.0L307.4,239.6L302.5,237.5Z"/><path fill="#41ba80" d="M307.4,233.0L314.0,231.6L314.0,238.2L307.4,239.6Z"/></g>
<g stroke="#56b73c"><path fill="#71f04f" d="M261.3,231.6L266.0,233.6L272.2,232.3L267.6,230.2Z"/><path fill="#6ce44c" d="M261.3,231.6L266.0,233.6L266.0,239.9L261.3,237.8Z"/><path fill="#64d446" d="M266.0,233.6L272.2,232.3L272.2,238.5L266.0,239.9Z"/></g>
<g stroke="#6a0d88"><path fill="#8c11b2" d="M285.7,230.7L291.5,233.3L299.4,231.6L293.5,229.0Z"/><path fill="#8510aa" d="M285.7,230.7L291.5,233.3L291.5,241.2L285.7,238.6Z"/><path fill="#7c0f9e" d="M291.5,233.3L299.4,231.6L299.4,239.5L291.5,241.2Z"/></g>
<g stroke="#49b33b"><path fill="#60ea4e" d="M271.3,237.9L275.9,240.0L282.3,238.6L277.6,236.6Z"/><path fill="#5bdf4a" d="M271.3,237.9L275.9,240.0L275.9,246.3L271.3,244.3Z"/><path fill="#55d045" d="M275.9,240.0L282.3,238.6L282.3,245.0L275.9,246.3Z"/></g>
<g stroke="#83bd46"><path fill="#acf85b" d="M245.8,232.3L250.2,234.3L256.2,233.0L251.8,231.1Z"/><path fill="#a4ec57" d="M245.8,232.3L250.2,234.3L250.2,240.3L245.8,238.3Z"/><path fill="#99db51" d="M250.2,234.3L256.2,233.0L256.2,239.0L250.2,240.3Z"/></g>
<g stroke="#6cbb41"><path fill="#8ef655" d="M250.0,251.4L254.5,253.4L260.6,252.1L256.1,250.1Z"/><path fill="#87ea51" d="M250.0,251.4L254.5,253.4L254.5,259.5L250.0,257.5Z"/><path fill="#7dda4c" d="M254.5,253.4L260.6,252.1L260.6,258.2L254.5,259.5Z"/></g>
<g stroke="#329a7f"><path fill="#41caa7" d="M253.7,270.2L258.7,272.4L265.4,271.0L260.4,268.8Z"/><path fill="#3ec09f" d="M253.7,270.2L258.7,272.4L258.7,279.1L253.7,276.9Z"/><path fill="#3ab394" d="M258.7,272.4L265.4,271.0L265.4,277.7L258.7,279.1Z"/></g>
<g stroke="#6bbb41"><path fill="#8cf655" d="M307.2,233.0L311.7,235.0L317.8,233.7L313.3,231.7Z"/><path fill="#86ea51" d="M307.2,233.0L311.7,235.0L311.7,241.1L307.2,239.1Z"/><path fill="#7cda4b" d="M311.7,235.0L317.8,233.7L317.8,239.8L311.7,241.1Z"/></g>
<g stroke="#4d63c0"><path fill="#6581fc" d="M264.7,232.9L270.1,235.3L277.3,233.7L271.9,231.4Z"/><path fill="#607bf0" d="M264.7,232.9L270.1,235.3L270.1,242.5L264.7,240.2Z"/><path fill="#5a73df" d="M270.1,235.3L277.3,233.7L277.3,241.0L270.1,242.5Z"/></g>
<g stroke="#91bd46"><path fill="#bff95c" d="M262.9,297.5L267.3,299.4L273.1,298.1L268.8,296.2Z"/><path fill="#b6ed58" d="M262.9,297.5L267.3,299.4L267.3,305.3L262.9,303.3Z"/><path fill="#a9dc52" d="M267.3,299.4L273.1,298.1L273.1,304.0L267.3,305.3Z"/></g>
<g stroke="#6732b1"><path fill="#8741e8" d="M265.7,315.7L271.3,318.1L278.9,316.5L273.3,314.0Z"/><path fill="#803edd" d="M265.7,315.7L271.3,318.1L271.3,325.8L265.7,323.3Z"/><path fill="#773acd" d="M271.3,318.1L278.9,316.5L278.9,324.1L271.3,325.8Z"/></g>
<g stroke="#8bbd46"><path fill="#b7f85c" d="M275.9,234.3L280.3,236.2L286.2,235.0L281.8,233.0Z"/><path fill="#aeec58" d="M275.9,234.3L280.3,236.2L280.3,242.1L275.9,240.2Z"/><path fill="#a2dc52" d="M280.3,236.2L286.2,235.0L286.2,240.9L280.3,242.1Z"/></g>
<g stroke="#47b043"><path fill="#5de758" d="M301.2,234.1L305.9,236.2L312.3,234.8L307.6,232.7Z"/><path fill="#59dc53" d="M301.2,234.1L305.9,236.2L305.9,242.6L301.2,240.5Z"/><path fill="#52cd4e" d="M305.9,236.2L312.3,234.8L312.3,241.2L305.9,242.6Z"/></g>
<g stroke="#7bbc44"><path fill="#a2f759" d="M260.0,234.8L264.5,236.8L270.5,235.5L266.0,233.5Z"/><path fill="#9aeb55" d="M260.0,234.8L264.5,236.8L264.5,242.8L260.0,240.8Z"/><path fill="#8fdb4f" d="M264.5,236.8L270.5,235.5L270.5,241.5L264.5,242.8Z"/></g>
<g stroke="#58b73d"><path fill="#74f150" d="M311.4,234.8L316.0,236.9L322.2,235.5L317.6,233.5Z"/><path fill="#6ee54c" d="M311.4,234.8L316.0,236.9L316.0,243.1L311.4,241.0Z"/><path fill="#67d547" d="M316.0,236.9L322.2,235.5L322.2,241.7L316.0,243.1Z"/></g>
<g stroke="#72bc42"><path fill="#96f657" d="M324.3,292.4L328.8,294.3L334.8,293.0L330.3,291.1Z"/><path fill="#8feb53" d="M324.3,292.4L328.8,294.3L328.8,300.4L324.3,298.4Z"/><path fill="#85da4d" d="M328.8,294.3L334.8,293.0L334.8,299.1L328.8,300.4Z"/></g>
<g stroke="#2f908e"><path fill="#3ebdba" d="M269.3,235.0L274.4,237.3L281.2,235.8L276.2,233.6Z"/><path fill="#3bb4b2" d="M269.3,235.0L274.4,237.3L274.4,244.1L269.3,241.9Z"/><path fill="#37a8a5" d="M274.4,237.3L281.2,235.8L281.2,242.6L274.4,244.1Z"/></g>
<g stroke="#55b63c"><path fill="#70ef4f" d="M295.6,235.4L300.2,237.4L306.5,236.1L301.8,234.1Z"/><path fill="#6be44b" d="M295.6,235.4L300.2,237.4L300.2,243.7L295.6,241.6Z"/><path fill="#63d446" d="M300.2,237.4L306.5,236.1L306.5,242.3L300.2,243.7Z"/></g>
<g stroke="#4eb53b"><path fill="#67ed4d" d="M254.1,235.9L258.7,238.0L265.0,236.6L260.3,234.6Z"/><path fill="#62e249" d="M254.1,235.9L258.7,238.0L258.7,244.3L254.1,242.2Z"/><path fill="#5bd244" d="M258.7,238.0L265.0,236.6L265.0,242.9L258.7,244.3Z"/></g>
<g stroke="#319586"><path fill="#40c4b0" d="M279.4,235.7L284.4,237.9L291.2,236.5L286.2,234.3Z"/><path fill="#3dbba8" d="M279.4,235.7L284.4,237.9L284.4,244.7L279.4,242.5Z"/><path fill="#38ae9c" d="M284.4,237.9L291.2,236.5L291.2,243.2L284.4,244.7Z"/></g>
<g stroke="#3881a7"><path fill="#49a9db" d="M263.4,241.9L268.6,244.2L275.6,242.7L270.4,240.4Z"/><path fill="#46a1d1" d="M263.4,241.9L268.6,244.2L268.6,251.2L263.4,248.9Z"/><path fill="#4196c2" d="M268.6,244.2L275.6,242.7L275.6,249.7L268.6,251.2Z"/></g>
<g stroke="#65bb40"><path fill="#85f554" d="M305.7,236.1L310.2,238.1L316.4,236.8L311.8,234.8Z"/><path fill="#7fea50" d="M305.7,236.1L310.2,238.1L310.2,244.3L305.7,242.2Z"/><path fill="#76d94a" d="M310.2,238.1L316.4,236.8L316.4,242.9L310.2,244.3Z"/></g>
<g stroke="#486abb"><path fill="#5e8cf5" d="M296.1,312.1L301.4,314.4L308.6,312.9L303.2,310.5Z"/><path fill="#5a85ea" d="M296.1,312.1L301.4,314.4L301.4,321.6L296.1,319.3Z"/><path fill="#537cd9" d="M301.4,314.4L308.6,312.9L308.6,320.1L301.4,321.6Z"/></g>
<g stroke="#535ac6"><path fill="#6d76ff" d="M288.9,236.1L294.3,238.4L301.6,236.9L296.2,234.5Z"/><path fill="#6870f8" d="M288.9,236.1L294.3,238.4L294.3,245.7L288.9,243.3Z"/><path fill="#6168e7" d="M294.3,238.4L301.6,236.9L301.6,244.2L294.3,245.7Z"/></g>
<g stroke="#359d77"><path fill="#46ce9c" d="M258.0,249.1L262.9,251.3L269.6,249.9L264.6,247.7Z"/><path fill="#42c494" d="M258.0,249.1L262.9,251.3L262.9,257.9L258.0,255.8Z"/><path fill="#3eb78a" d="M262.9,251.3L269.6,249.9L269.6,256.5L262.9,257.9Z"/></g>
<g stroke="#4db43a"><path fill="#66ed4d" d="M315.6,236.7L320.2,238.7L326.5,237.4L321.8,235.3Z"/><path fill="#61e149" d="M315.6,236.7L320.2,238.7L320.2,245.0L315.6,243.0Z"/><path fill="#5ad244" d="M320.2,238.7L326.5,237.4L326.5,243.7L320.2,245.0Z"/></g>
<g stroke="#6732b1"><path fill="#8741e8" d="M261.4,267.7L267.1,270.2L274.7,268.6L269.0,266.1Z"/><path fill="#803edd" d="M261.4,267.7L267.1,270.2L267.1,277.8L261.4,275.4Z"/><path fill="#773acd" d="M267.1,270.2L274.7,268.6L274.7,276.2L267.1,277.8Z"/></g>
<g stroke="#46af46"><path fill="#5ce65c" d="M299.7,237.2L304.5,239.3L310.9,237.9L306.1,235.8Z"/><path fill="#57db58" d="M299.7,237.2L304.5,239.3L304.5,245.7L299.7,243.6Z"/><path fill="#51cb52" d="M304.5,239.3L310.9,237.9L310.9,244.3L304.5,245.7Z"/></g>
<g stroke="#84bd46"><path fill="#aef85b" d="M307.1,307.6L311.6,309.6L317.5,308.3L313.1,306.4Z"/><path fill="#a5ec57" d="M307.1,307.6L311.6,309.6L311.6,315.6L307.1,313.6Z"/><path fill="#9adb51" d="M311.6,309.6L317.5,308.3L317.5,314.3L311.6,315.6Z"/></g>
<g stroke="#48b140"><path fill="#5ee854" d="M284.0,237.8L288.7,239.9L295.1,238.5L290.4,236.4Z"/><path fill="#5add50" d="M284.0,237.8L288.7,239.9L288.7,246.3L284.0,244.2Z"/><path fill="#53ce4a" d="M288.7,239.9L295.1,238.5L295.1,244.9L288.7,246.3Z"/></g>
<g stroke="#7cbc44"><path fill="#a3f759" d="M268.6,244.4L273.0,246.3L279.0,245.0L274.6,243.1Z"/><path fill="#9beb55" d="M268.6,244.4L273.0,246.3L273.0,252.3L268.6,250.4Z"/><path fill="#90db4f" d="M273.0,246.3L279.0,245.0L279.0,251.0L273.0,252.3Z"/></g>
<g stroke="#48b13f"><path fill="#5ee953" d="M309.8,237.9L314.5,239.9L320.8,238.6L316.1,236.5Z"/><path fill="#5ade4f" d="M309.8,237.9L314.5,239.9L314.5,246.3L309.8,244.2Z"/><path fill="#54ce49" d="M314.5,239.9L320.8,238.6L320.8,244.9L314.5,246.3Z"/></g>
<g stroke="#2f8e92"><path fill="#3dbabf" d="M327.9,282.3L332.9,284.5L339.8,283.1L334.7,280.8Z"/><path fill="#3ab1b6" d="M327.9,282.3L332.9,284.5L332.9,291.4L327.9,289.1Z"/><path fill="#36a5a9" d="M332.9,284.5L339.8,283.1L339.8,289.9L332.9,291.4Z"/></g>
<g stroke="#76bc43"><path fill="#9bf758" d="M294.3,238.6L298.8,240.6L304.8,239.3L300.3,237.3Z"/><path fill="#94eb54" d="M294.3,238.6L298.8,240.6L298.8,246.7L294.3,244.7Z"/><path fill="#89da4e" d="M298.8,240.6L304.8,239.3L304.8,245.4L298.8,246.7Z"/></g>
<g stroke="#48b23e"><path fill="#5fe951" d="M319.8,238.5L324.5,240.6L330.8,239.2L326.1,237.1Z"/><path fill="#5ade4d" d="M319.8,238.5L324.5,240.6L324.5,246.9L319.8,244.9Z"/><path fill="#54cf48" d="M324.5,240.6L330.8,239.2L330.8,245.6L324.5,246.9Z"/></g>
<g stroke="#80bc45"><path fill="#a8f75a" d="M278.6,239.3L283.0,241.2L289.0,239.9L284.6,238.0Z"/><path fill="#a0ec56" d="M278.6,239.3L283.0,241.2L283.0,247.2L278.6,245.2Z"/><path fill="#95db50" d="M283.0,241.2L289.0,239.9L289.0,245.9L283.0,247.2Z"/></g>
<g stroke="#46b044"><path fill="#5de75a" d="M304.0,239.1L308.7,241.2L315.1,239.8L310.4,237.7Z"/><path fill="#58dc55" d="M304.0,239.1L308.7,241.2L308.7,247.6L304.0,245.5Z"/><path fill="#52cc4f" d="M308.7,241.2L315.1,239.8L315.1,246.2L308.7,247.6Z"/></g>
<g stroke="#6732b1"><path fill="#8741e8" d="M287.2,239.0L292.8,241.5L300.4,239.8L294.8,237.3Z"/><path fill="#803edd" d="M287.2,239.0L292.8,241.5L292.8,249.1L287.2,246.6Z"/><path fill="#773acd" d="M292.8,241.5L300.4,239.8L300.4,247.5L292.8,249.1Z"/></g>
<g stroke="#5f3ebb"><path fill="#7d51f5" d="M313.0,239.1L318.6,241.6L326.1,239.9L320.5,237.5Z"/><path fill="#774de9" d="M313.0,239.1L318.6,241.6L318.6,249.1L313.0,246.6Z"/><path fill="#6f48d9" d="M318.6,241.6L326.1,239.9L326.1,247.5L318.6,249.1Z"/></g>
<g stroke="#8ebd46"><path fill="#baf85c" d="M280.0,316.5L284.3,318.4L290.2,317.2L285.8,315.2Z"/><path fill="#b1ec58" d="M280.0,316.5L284.3,318.4L284.3,324.3L280.0,322.4Z"/><path fill="#a5dc52" d="M284.3,318.4L290.2,317.2L290.2,323.1L284.3,324.3Z"/></g>
<g stroke="#64bb3f"><path fill="#83f553" d="M272.7,240.4L277.3,242.4L283.4,241.1L278.8,239.1Z"/><path fill="#7de94f" d="M272.7,240.4L277.3,242.4L277.3,248.6L272.7,246.6Z"/><path fill="#74d94a" d="M277.3,242.4L283.4,241.1L283.4,247.2L277.3,248.6Z"/></g>
<g stroke="#3f78b2"><path fill="#529de9" d="M297.6,239.9L302.9,242.3L310.0,240.7L304.7,238.4Z"/><path fill="#4e96de" d="M297.6,239.9L302.9,242.3L302.9,249.3L297.6,247.0Z"/><path fill="#498bcf" d="M302.9,242.3L310.0,240.7L310.0,247.8L302.9,249.3Z"/></g>
<g stroke="#44ad4c"><path fill="#5ae364" d="M323.9,240.3L328.7,242.4L335.2,241.1L330.4,239.0Z"/><path fill="#55d85f" d="M323.9,240.3L328.7,242.4L328.7,248.9L323.9,246.8Z"/><path fill="#4fc958" d="M328.7,242.4L335.2,241.1L335.2,247.5L328.7,248.9Z"/></g>
<g stroke="#319685"><path fill="#40c5ae" d="M307.9,240.8L312.9,243.0L319.7,241.5L314.7,239.3Z"/><path fill="#3dbca6" d="M307.9,240.8L312.9,243.0L312.9,249.7L307.9,247.5Z"/><path fill="#39af9a" d="M312.9,243.0L319.7,241.5L319.7,248.3L312.9,249.7Z"/></g>
<g stroke="#4f60c2"><path fill="#677efe" d="M326.0,285.2L331.4,287.6L338.6,286.0L333.3,283.6Z"/><path fill="#6278f2" d="M326.0,285.2L331.4,287.6L331.4,294.8L326.0,292.4Z"/><path fill="#5b70e1" d="M331.4,287.6L338.6,286.0L338.6,293.3L331.4,294.8Z"/></g>
<g stroke="#329a7e"><path fill="#42caa6" d="M266.5,241.3L271.4,243.5L278.1,242.1L273.2,239.9Z"/><path fill="#3fc19e" d="M266.5,241.3L271.4,243.5L271.4,250.2L266.5,248.0Z"/><path fill="#3ab393" d="M271.4,243.5L278.1,242.1L278.1,248.8L271.4,250.2Z"/></g>
<g stroke="#7bbc44"><path fill="#a2f759" d="M318.6,241.8L323.0,243.8L329.0,242.5L324.6,240.5Z"/><path fill="#9aeb55" d="M318.6,241.8L323.0,243.8L323.0,249.8L318.6,247.8Z"/><path fill="#90db4f" d="M323.0,243.8L329.0,242.5L329.0,248.5L323.0,249.8Z"/></g>
<g stroke="#339b7c"><path fill="#43cca3" d="M276.5,242.0L281.4,244.2L288.1,242.7L283.2,240.6Z"/><path fill="#40c29b" d="M276.5,242.0L281.4,244.2L281.4,250.9L276.5,248.7Z"/><path fill="#3bb490" d="M281.4,244.2L288.1,242.7L288.1,249.4L281.4,250.9Z"/></g>
<g stroke="#5fb93e"><path fill="#7df352" d="M302.7,242.3L307.3,244.3L313.4,243.0L308.9,241.0Z"/><path fill="#77e74e" d="M302.7,242.3L307.3,244.3L307.3,250.5L302.7,248.5Z"/><path fill="#6fd749" d="M307.3,244.3L313.4,243.0L313.4,249.2L307.3,250.5Z"/></g>
<g stroke="#47b043"><path fill="#5de757" d="M286.8,242.8L291.5,244.9L297.9,243.5L293.1,241.4Z"/><path fill="#59dc53" d="M286.8,242.8L291.5,244.9L291.5,251.3L286.8,249.2Z"/><path fill="#53cd4d" d="M291.5,244.9L297.9,243.5L297.9,249.9L291.5,251.3Z"/></g>
<g stroke="#38a16d"><path fill="#4ad38f" d="M312.3,242.7L317.2,244.9L323.8,243.5L318.9,241.3Z"/><path fill="#46c988" d="M312.3,242.7L317.2,244.9L317.2,251.5L312.3,249.3Z"/><path fill="#42bb7f" d="M317.2,244.9L323.8,243.5L323.8,250.1L317.2,251.5Z"/></g>
<g stroke="#2f908e"><path fill="#3ebdba" d="M283.4,306.4L288.5,308.6L295.3,307.1L290.2,304.9Z"/><path fill="#3bb4b2" d="M283.4,306.4L288.5,308.6L288.5,315.4L283.4,313.2Z"/><path fill="#37a8a5" d="M288.5,308.6L295.3,307.1L295.3,313.9L288.5,315.4Z"/></g>
<g stroke="#39a16c"><path fill="#4ad38e" d="M270.8,243.3L275.7,245.4L282.3,244.0L277.4,241.9Z"/><path fill="#47c987" d="M270.8,243.3L275.7,245.4L275.7,252.0L270.8,249.9Z"/><path fill="#42bb7e" d="M275.7,245.4L282.3,244.0L282.3,250.6L275.7,252.0Z"/></g>
<g stroke="#45ae49"><path fill="#5be55f" d="M332.5,244.1L337.2,246.2L343.7,244.8L338.9,242.7Z"/><path fill="#57da5b" d="M332.5,244.1L337.2,246.2L337.2,252.6L332.5,250.5Z"/><path fill="#51cb54" d="M337.2,246.2L343.7,244.8L343.7,251.3L337.2,252.6Z"/></g>
<g stroke="#62ba3f"><path fill="#80f453" d="M284.0,295.2L288.6,297.2L294.7,295.9L290.1,293.9Z"/><path fill="#7ae84f" d="M284.0,295.2L288.6,297.2L288.6,303.4L284.0,301.4Z"/><path fill="#72d849" d="M288.6,297.2L294.7,295.9L294.7,302.1L288.6,303.4Z"/></g>
<g stroke="#43ac4f"><path fill="#58e168" d="M288.0,314.2L292.8,316.3L299.2,314.9L294.4,312.8Z"/><path fill="#54d763" d="M288.0,314.2L292.8,316.3L292.8,322.8L288.0,320.7Z"/><path fill="#4ec85c" d="M292.8,316.3L299.2,314.9L299.2,321.4L292.8,322.8Z"/></g>
<g stroke="#6bbb41"><path fill="#8cf655" d="M291.3,244.8L295.8,246.8L301.9,245.5L297.4,243.5Z"/><path fill="#86ea51" d="M291.3,244.8L295.8,246.8L295.8,252.9L291.3,250.9Z"/><path fill="#7cda4b" d="M295.8,246.8L301.9,245.5L301.9,251.6L295.8,252.9Z"/></g>
<g stroke="#55b63c"><path fill="#70ef4f" d="M301.1,251.2L305.8,253.2L312.0,251.9L307.4,249.8Z"/><path fill="#6be44b" d="M301.1,251.2L305.8,253.2L305.8,259.5L301.1,257.4Z"/><path fill="#63d446" d="M305.8,253.2L312.0,251.9L312.0,258.1L305.8,259.5Z"/></g>
<g stroke="#78bc43"><path fill="#9ef758" d="M275.6,245.5L280.0,247.4L286.1,246.2L281.6,244.2Z"/><path fill="#96eb54" d="M275.6,245.5L280.0,247.4L280.0,253.5L275.6,251.5Z"/><path fill="#8cdb4e" d="M280.0,247.4L286.1,246.2L286.1,252.2L280.0,253.5Z"/></g>
<g stroke="#58b73d"><path fill="#74f050" d="M326.9,245.5L331.5,247.5L337.7,246.2L333.1,244.1Z"/><path fill="#6ee54c" d="M326.9,245.5L331.5,247.5L331.5,253.7L326.9,251.7Z"/><path fill="#66d547" d="M331.5,247.5L337.7,246.2L337.7,252.4L331.5,253.7Z"/></g>
<g stroke="#59b73d"><path fill="#74f150" d="M285.4,246.0L290.0,248.0L296.2,246.7L291.6,244.7Z"/><path fill="#6fe54c" d="M285.4,246.0L290.0,248.0L290.0,254.3L285.4,252.2Z"/><path fill="#67d547" d="M290.0,248.0L296.2,246.7L296.2,252.9L290.0,254.3Z"/></g>
<g stroke="#5bb83d"><path fill="#78f251" d="M311.2,246.1L315.8,248.1L322.0,246.8L317.4,244.7Z"/><path fill="#72e64d" d="M311.2,246.1L315.8,248.1L315.8,254.3L311.2,252.3Z"/><path fill="#6ad647" d="M315.8,248.1L322.0,246.8L322.0,253.0L315.8,254.3Z"/></g>
<g stroke="#6239b6"><path fill="#814bef" d="M335.8,245.4L341.4,247.8L348.9,246.2L343.3,243.7Z"/><path fill="#7b47e4" d="M335.8,245.4L341.4,247.8L341.4,255.4L335.8,252.9Z"/><path fill="#7242d4" d="M341.4,247.8L348.9,246.2L348.9,253.8L341.4,255.4Z"/></g>
<g stroke="#309587"><path fill="#3fc3b2" d="M279.2,252.7L284.2,254.9L291.0,253.5L286.0,251.3Z"/><path fill="#3cbaa9" d="M279.2,252.7L284.2,254.9L284.2,261.7L279.2,259.5Z"/><path fill="#38ad9d" d="M284.2,254.9L291.0,253.5L291.0,260.2L284.2,261.7Z"/></g>
<g stroke="#7fbc45"><path fill="#a7f75a" d="M321.4,246.8L325.8,248.8L331.8,247.5L327.4,245.5Z"/><path fill="#9feb56" d="M321.4,246.8L325.8,248.8L325.8,254.8L321.4,252.8Z"/><path fill="#94db50" d="M325.8,248.8L331.8,247.5L331.8,253.5L325.8,254.8Z"/></g>
<g stroke="#6a0d88"><path fill="#8c11b2" d="M339.7,258.6L345.6,261.2L353.4,259.5L347.6,256.9Z"/><path fill="#8510aa" d="M339.7,258.6L345.6,261.2L345.6,269.0L339.7,266.5Z"/><path fill="#7c0f9e" d="M345.6,261.2L353.4,259.5L353.4,267.4L345.6,269.0Z"/></g>
<g stroke="#2f908e"><path fill="#3ebdba" d="M334.9,271.9L340.0,274.2L346.8,272.7L341.7,270.5Z"/><path fill="#3bb4b2" d="M334.9,271.9L340.0,274.2L340.0,281.0L334.9,278.7Z"/><path fill="#37a8a5" d="M340.0,274.2L346.8,272.7L346.8,279.5L340.0,281.0Z"/></g>
<g stroke="#6732b1"><path fill="#8741e8" d="M307.0,303.3L312.6,305.8L320.2,304.2L314.6,301.7Z"/><path fill="#803edd" d="M307.0,303.3L312.6,305.8L312.6,313.5L307.0,311.0Z"/><path fill="#773acd" d="M312.6,305.8L320.2,304.2L320.2,311.8L312.6,313.5Z"/></g>
<g stroke="#4d63c0"><path fill="#6581fc" d="M291.6,309.9L296.9,312.3L304.1,310.7L298.8,308.3Z"/><path fill="#607bf0" d="M291.6,309.9L296.9,312.3L296.9,319.5L291.6,317.1Z"/><path fill="#5a73df" d="M296.9,312.3L304.1,310.7L304.1,317.9L296.9,319.5Z"/></g>
<g stroke="#6abb41"><path fill="#8bf655" d="M305.5,247.4L310.0,249.4L316.2,248.0L311.6,246.0Z"/><path fill="#85ea51" d="M305.5,247.4L310.0,249.4L310.0,255.5L305.5,253.5Z"/><path fill="#7bda4b" d="M310.0,249.4L316.2,248.0L316.2,254.2L310.0,255.5Z"/></g>
<g stroke="#3683a4"><path fill="#48acd8" d="M289.0,247.5L294.2,249.8L301.2,248.3L296.0,246.0Z"/><path fill="#44a3cd" d="M289.0,247.5L294.2,249.8L294.2,256.7L289.0,254.5Z"/><path fill="#3f98bf" d="M294.2,249.8L301.2,248.3L301.2,255.2L294.2,256.7Z"/></g>
<g stroke="#4ab33a"><path fill="#61eb4c" d="M315.4,247.9L320.0,250.0L326.3,248.6L321.7,246.5Z"/><path fill="#5de048" d="M315.4,247.9L320.0,250.0L320.0,256.3L315.4,254.2Z"/><path fill="#56d043" d="M320.0,250.0L326.3,248.6L326.3,254.9L320.0,256.3Z"/></g>
<g stroke="#92bd46"><path fill="#bff95c" d="M300.0,254.5L304.3,256.4L310.2,255.2L305.8,253.2Z"/><path fill="#b6ed58" d="M300.0,254.5L304.3,256.4L304.3,262.3L300.0,260.4Z"/><path fill="#a9dc52" d="M304.3,256.4L310.2,255.2L310.2,261.0L304.3,262.3Z"/></g>
<g stroke="#3ca463"><path fill="#4fd882" d="M287.9,279.6L292.8,281.8L299.3,280.3L294.5,278.2Z"/><path fill="#4bce7c" d="M287.9,279.6L292.8,281.8L292.8,288.3L287.9,286.2Z"/><path fill="#46bf73" d="M292.8,281.8L299.3,280.3L299.3,286.9L292.8,288.3Z"/></g>
<g stroke="#4f60c2"><path fill="#677efe" d="M291.6,298.4L296.9,300.7L304.2,299.2L298.8,296.8Z"/><path fill="#6278f2" d="M291.6,298.4L296.9,300.7L296.9,308.0L291.6,305.6Z"/><path fill="#5b70e1" d="M296.9,300.7L304.2,299.2L304.2,306.4L296.9,308.0Z"/></g>
<g stroke="#319981"><path fill="#41c9a9" d="M309.3,248.9L314.2,251.1L320.9,249.7L316.0,247.5Z"/><path fill="#3ebfa1" d="M309.3,248.9L314.2,251.1L314.2,257.8L309.3,255.6Z"/><path fill="#39b296" d="M314.2,251.1L320.9,249.7L320.9,256.4L314.2,257.8Z"/></g>
<g stroke="#45ae4a"><path fill="#5ae461" d="M296.5,306.5L301.3,308.6L307.7,307.2L303.0,305.1Z"/><path fill="#56d95c" d="M296.5,306.5L301.3,308.6L301.3,315.0L296.5,312.9Z"/><path fill="#50ca55" d="M301.3,308.6L307.7,307.2L307.7,313.6L301.3,315.0Z"/></g>
<g stroke="#5eb93e"><path fill="#7bf352" d="M319.7,249.8L324.3,251.9L330.5,250.5L325.9,248.5Z"/><path fill="#76e74e" d="M319.7,249.8L324.3,251.9L324.3,258.1L319.7,256.0Z"/><path fill="#6dd748" d="M324.3,251.9L330.5,250.5L330.5,256.7L324.3,258.1Z"/></g>
<g stroke="#2f908e"><path fill="#3ebdba" d="M287.7,256.4L292.7,258.7L299.5,257.2L294.5,255.0Z"/><path fill="#3bb4b2" d="M287.7,256.4L292.7,258.7L292.7,265.5L287.7,263.3Z"/><path fill="#37a8a5" d="M292.7,258.7L299.5,257.2L299.5,264.0L292.7,265.5Z"/></g>
<g stroke="#43ac4e"><path fill="#59e267" d="M313.7,256.7L318.5,258.8L325.0,257.4L320.2,255.3Z"/><path fill="#54d762" d="M313.7,256.7L318.5,258.8L318.5,265.3L313.7,263.2Z"/><path fill="#4ec85b" d="M318.5,258.8L325.0,257.4L325.0,263.9L318.5,265.3Z"/></g>
<g stroke="#92bd46"><path fill="#bff95c" d="M297.0,295.3L301.4,297.2L307.2,295.9L302.9,294.0Z"/><path fill="#b6ed58" d="M297.0,295.3L301.4,297.2L301.4,303.1L297.0,301.1Z"/><path fill="#a9dc52" d="M301.4,297.2L307.2,295.9L307.2,301.8L301.4,303.1Z"/></g>
<g stroke="#5bb83d"><path fill="#77f151" d="M324.0,251.7L328.6,253.7L334.8,252.4L330.2,250.4Z"/><path fill="#71e64d" d="M324.0,251.7L328.6,253.7L328.6,260.0L324.0,257.9Z"/><path fill="#69d647" d="M328.6,253.7L334.8,252.4L334.8,258.6L328.6,260.0Z"/></g>
<g stroke="#68bb40"><path fill="#89f654" d="M292.5,264.5L297.1,266.5L303.2,265.1L298.7,263.1Z"/><path fill="#82ea50" d="M292.5,264.5L297.1,266.5L297.1,272.6L292.5,270.6Z"/><path fill="#79da4b" d="M297.1,266.5L303.2,265.1L303.2,271.3L297.1,272.6Z"/></g>
<g stroke="#4fb53b"><path fill="#68ed4d" d="M333.9,258.1L338.6,260.1L344.8,258.8L340.2,256.7Z"/><path fill="#63e24a" d="M333.9,258.1L338.6,260.1L338.6,266.4L333.9,264.4Z"/><path fill="#5cd244" d="M338.6,260.1L344.8,258.8L344.8,265.1L338.6,266.4Z"/></g>
<g stroke="#55b63c"><path fill="#70ef4f" d="M316.7,296.3L321.3,298.4L327.6,297.0L322.9,295.0Z"/><path fill="#6be44b" d="M316.7,296.3L321.3,298.4L321.3,304.6L316.7,302.6Z"/><path fill="#63d446" d="M321.3,298.4L327.6,297.0L327.6,303.3L321.3,304.6Z"/></g>
<g stroke="#319981"><path fill="#41c8aa" d="M333.5,252.1L338.5,254.3L345.2,252.8L340.2,250.6Z"/><path fill="#3ebfa2" d="M333.5,252.1L338.5,254.3L338.5,261.0L333.5,258.8Z"/><path fill="#39b296" d="M338.5,254.3L345.2,252.8L345.2,259.5L338.5,261.0Z"/></g>
<g stroke="#339b7c"><path fill="#43cca3" d="M316.3,290.4L321.3,292.5L327.9,291.1L323.0,288.9Z"/><path fill="#40c29b" d="M316.3,290.4L321.3,292.5L321.3,299.2L316.3,297.0Z"/><path fill="#3bb490" d="M321.3,292.5L327.9,291.1L327.9,297.8L321.3,299.2Z"/></g>
<g stroke="#60b93f"><path fill="#7ef352" d="M311.0,303.4L315.6,305.4L321.8,304.1L317.2,302.1Z"/><path fill="#78e84e" d="M311.0,303.4L315.6,305.4L315.6,311.6L311.0,309.6Z"/><path fill="#6fd849" d="M315.6,305.4L321.8,304.1L321.8,310.3L315.6,311.6Z"/></g>
<g stroke="#44ad4d"><path fill="#59e365" d="M318.0,252.8L322.8,254.9L329.2,253.5L324.4,251.4Z"/><path fill="#55d860" d="M318.0,252.8L322.8,254.9L322.8,261.4L318.0,259.3Z"/><path fill="#4fc95a" d="M322.8,254.9L329.2,253.5L329.2,260.0L322.8,261.4Z"/></g>
<g stroke="#4f60c2"><path fill="#677efe" d="M321.6,271.5L326.9,273.9L334.2,272.3L328.8,270.0Z"/><path fill="#6278f2" d="M321.6,271.5L326.9,273.9L326.9,281.1L321.6,278.8Z"/><path fill="#5b70e1" d="M326.9,273.9L334.2,272.3L334.2,279.6L326.9,281.1Z"/></g>
<g stroke="#50b53b"><path fill="#68ed4d" d="M316.7,284.8L321.3,286.9L327.6,285.5L322.9,283.5Z"/><path fill="#63e24a" d="M316.7,284.8L321.3,286.9L321.3,293.2L316.7,291.1Z"/><path fill="#5cd244" d="M321.3,286.9L327.6,285.5L327.6,291.8L321.3,293.2Z"/></g>
<g stroke="#91bd46"><path fill="#bef95c" d="M301.3,291.4L305.6,293.3L311.5,292.1L307.1,290.1Z"/><path fill="#b5ed58" d="M301.3,291.4L305.6,293.3L305.6,299.2L301.3,297.3Z"/><path fill="#a9dc52" d="M305.6,293.3L311.5,292.1L311.5,297.9L305.6,299.2Z"/></g>
<g stroke="#92bd46"><path fill="#c0f95c" d="M311.3,297.8L315.6,299.7L321.5,298.5L317.1,296.5Z"/><path fill="#b7ed58" d="M311.3,297.8L315.6,299.7L315.6,305.6L311.3,303.7Z"/><path fill="#aadc52" d="M315.6,299.7L321.5,298.5L321.5,304.3L315.6,305.6Z"/></g>
<g stroke="#79bc44"><path fill="#9ff759" d="M302.6,253.7L307.1,255.6L313.1,254.3L308.6,252.4Z"/><path fill="#97eb54" d="M302.6,253.7L307.1,255.6L307.1,261.7L302.6,259.7Z"/><path fill="#8ddb4f" d="M307.1,255.6L313.1,254.3L313.1,260.4L307.1,261.7Z"/></g>
<g stroke="#4f60c2"><path fill="#677efe" d="M300.1,284.9L305.4,287.2L312.7,285.7L307.3,283.3Z"/><path fill="#6278f2" d="M300.1,284.9L305.4,287.2L305.4,294.5L300.1,292.1Z"/><path fill="#5b70e1" d="M305.4,287.2L312.7,285.7L312.7,292.9L305.4,294.5Z"/></g>
<g stroke="#46af47"><path fill="#5be55d" d="M312.3,254.1L317.0,256.2L323.4,254.8L318.7,252.7Z"/><path fill="#57da59" d="M312.3,254.1L317.0,256.2L317.0,262.6L312.3,260.5Z"/><path fill="#51cb53" d="M317.0,256.2L323.4,254.8L323.4,261.2L317.0,262.6Z"/></g>
<g stroke="#6a0d88"><path fill="#8c11b2" d="M295.3,259.6L301.1,262.2L309.0,260.5L303.1,257.9Z"/><path fill="#8510aa" d="M295.3,259.6L301.1,262.2L301.1,270.1L295.3,267.5Z"/><path fill="#7c0f9e" d="M301.1,262.2L309.0,260.5L309.0,268.4L301.1,270.1Z"/></g>
<g stroke="#6436b5"><path fill="#8348ed" d="M295.5,254.0L301.1,256.5L308.7,254.9L303.1,252.4Z"/><path fill="#7d44e2" d="M295.5,254.0L301.1,256.5L301.1,264.1L295.5,261.6Z"/><path fill="#743fd2" d="M301.1,256.5L308.7,254.9L308.7,262.5L301.1,264.1Z"/></g>
<g stroke="#3683a4"><path fill="#48acd8" d="M304.6,292.7L309.7,294.9L316.7,293.4L311.5,291.2Z"/><path fill="#44a3cd" d="M304.6,292.7L309.7,294.9L309.7,301.9L304.6,299.6Z"/><path fill="#3f98bf" d="M309.7,294.9L316.7,293.4L316.7,300.4L309.7,301.9Z"/></g>
<g stroke="#58b73d"><path fill="#73f050" d="M306.7,255.4L311.3,257.5L317.5,256.1L312.9,254.1Z"/><path fill="#6ee54c" d="M306.7,255.4L311.3,257.5L311.3,263.7L306.7,261.7Z"/><path fill="#66d547" d="M311.3,257.5L317.5,256.1L317.5,262.3L311.3,263.7Z"/></g>
<g stroke="#6bbb41"><path fill="#8cf655" d="M316.8,256.1L321.3,258.1L327.4,256.8L322.9,254.8Z"/><path fill="#86ea51" d="M316.8,256.1L321.3,258.1L321.3,264.2L316.8,262.2Z"/><path fill="#7cda4b" d="M321.3,258.1L327.4,256.8L327.4,262.9L321.3,264.2Z"/></g>
<g stroke="#47b043"><path fill="#5de758" d="M300.8,256.6L305.6,258.7L311.9,257.3L307.2,255.2Z"/><path fill="#58dc54" d="M300.8,256.6L305.6,258.7L305.6,265.1L300.8,263.0Z"/><path fill="#52cd4e" d="M305.6,258.7L311.9,257.3L311.9,263.7L305.6,265.1Z"/></g>
</g>
<g stroke="#262626" stroke-width="1.45" stroke-linecap="round" fill="none">
<line x1="53.75" y1="188.00" x2="53.75" y2="388.22"/>
<line x1="493.49" y1="212.39" x2="493.49" y2="412.61"/>
<line x1="53.75" y1="388.22" x2="235.01" y2="468.32"/>
<line x1="235.01" y1="468.32" x2="493.49" y2="412.61"/>
<line x1="53.75" y1="188.00" x2="47.35" y2="185.17"/>
<line x1="53.75" y1="254.74" x2="47.35" y2="251.91"/>
<line x1="53.75" y1="321.48" x2="47.35" y2="318.65"/>
<line x1="53.75" y1="388.22" x2="47.35" y2="385.39"/>
<line x1="53.75" y1="388.22" x2="46.91" y2="389.69"/>
<line x1="94.03" y1="406.02" x2="87.19" y2="407.49"/>
<line x1="134.31" y1="423.82" x2="127.47" y2="425.29"/>
<line x1="174.59" y1="441.62" x2="167.75" y2="443.09"/>
<line x1="214.87" y1="459.42" x2="208.03" y2="460.89"/>
<line x1="235.01" y1="468.32" x2="241.41" y2="471.15"/>
<line x1="292.45" y1="455.94" x2="298.85" y2="458.77"/>
<line x1="349.89" y1="443.56" x2="356.29" y2="446.39"/>
<line x1="407.33" y1="431.18" x2="413.73" y2="434.01"/>
<line x1="464.77" y1="418.80" x2="471.17" y2="421.63"/>
</g>
<g font-family="'Liberation Sans','DejaVu Sans',sans-serif" fill="#262626">
<text x="37.3" y="189.6" font-size="16.3" text-anchor="middle" >0</text>
<text x="37.3" y="256.3" font-size="16.3" text-anchor="middle" >2</text>
<text x="37.3" y="323.1" font-size="16.3" text-anchor="middle" >4</text>
<text x="37.3" y="389.8" font-size="16.3" text-anchor="middle" >6</text>
<text x="36.5" y="408.4" font-size="16.3" text-anchor="middle" >0</text>
<text x="76.7" y="426.2" font-size="16.3" text-anchor="middle" >2</text>
<text x="117.0" y="444.0" font-size="16.3" text-anchor="middle" >4</text>
<text x="157.3" y="461.8" font-size="16.3" text-anchor="middle" >6</text>
<text x="197.6" y="479.6" font-size="16.3" text-anchor="middle" >8</text>
<text x="251.9" y="490.6" font-size="16.3" text-anchor="middle" >0</text>
<text x="309.3" y="478.2" font-size="16.3" text-anchor="middle" >2</text>
<text x="366.8" y="465.9" font-size="16.3" text-anchor="middle" >4</text>
<text x="424.2" y="453.5" font-size="16.3" text-anchor="middle" >6</text>
<text x="481.7" y="441.1" font-size="16.3" text-anchor="middle" >8</text>
<text x="102.0" y="495.0" font-size="17.8" text-anchor="start" textLength="53" lengthAdjust="spacingAndGlyphs">X [km]</text>
<text x="341.2" y="500.9" font-size="17.8" text-anchor="start" textLength="53" lengthAdjust="spacingAndGlyphs">Y [km]</text>
<text transform="translate(21.4,284.8) rotate(-90)" font-size="17.8" text-anchor="middle" textLength="50.5" lengthAdjust="spacingAndGlyphs">Z [km]</text>
<text y="124.0" font-size="18.2"><tspan x="252.0" textLength="9" lengthAdjust="spacingAndGlyphs">τ</tspan><tspan x="263" font-size="5"> </tspan><tspan x="267.2" y="123.7" font-size="13.0" font-weight="bold" textLength="13.4" lengthAdjust="spacingAndGlyphs">=</tspan><tspan x="302.9" y="124.0" font-size="18.0" text-anchor="end">15</tspan></text>
<text x="61.6" y="62.4" font-size="14.0" text-anchor="middle" textLength="24.2" lengthAdjust="spacingAndGlyphs">230</text>
<text x="118.5" y="62.4" font-size="14.0" text-anchor="middle" textLength="24.2" lengthAdjust="spacingAndGlyphs">240</text>
<text x="178.2" y="62.4" font-size="14.0" text-anchor="middle" textLength="24.2" lengthAdjust="spacingAndGlyphs">250</text>
<text x="237.8" y="62.4" font-size="14.0" text-anchor="middle" textLength="24.2" lengthAdjust="spacingAndGlyphs">260</text>
<text x="297.5" y="62.4" font-size="14.0" text-anchor="middle" textLength="24.2" lengthAdjust="spacingAndGlyphs">270</text>
<text x="357.1" y="62.4" font-size="14.0" text-anchor="middle" textLength="24.2" lengthAdjust="spacingAndGlyphs">280</text>
<text x="416.8" y="62.4" font-size="14.0" text-anchor="middle" textLength="24.2" lengthAdjust="spacingAndGlyphs">290</text>
<text x="472.0" y="62.4" font-size="14.0" text-anchor="middle" textLength="24.2" lengthAdjust="spacingAndGlyphs">300</text>
<text y="23.4" font-size="14.4"><tspan x="216.2" textLength="87.5" lengthAdjust="spacingAndGlyphs">Density [kg/m</tspan><tspan x="304.2" y="16.4" font-size="10.4">3</tspan><tspan x="312.4" y="23.4">]</tspan></text>
</g>
<g font-family="'Liberation Serif','DejaVu Serif',serif" fill="#111" font-size="20.5">
<text y="540.5"><tspan x="200.3">(</tspan><tspan font-weight="bold">c</tspan><tspan>)</tspan><tspan x="226" font-size="5"> </tspan><tspan x="230.2" font-style="italic" font-size="24" textLength="10.8" lengthAdjust="spacingAndGlyphs">τ</tspan><tspan x="244" font-size="5"> </tspan><tspan x="248.6" textLength="17.4" lengthAdjust="spacingAndGlyphs">=</tspan><tspan x="269" font-size="5"> </tspan><tspan x="274.0" textLength="25.2" lengthAdjust="spacingAndGlyphs">15.</tspan></text>
</g>
</svg>
</body></html>
